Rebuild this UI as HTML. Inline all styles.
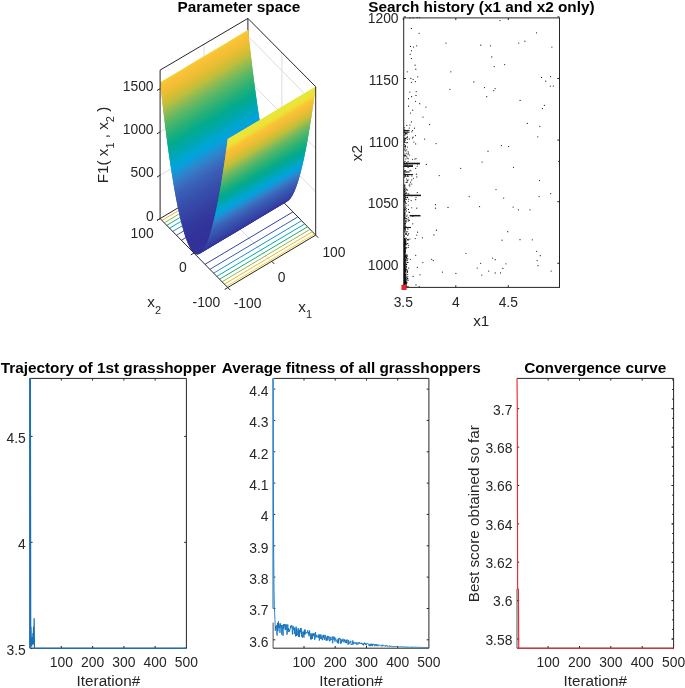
<!DOCTYPE html>
<html><head><meta charset="utf-8"><title>GOA results</title>
<style>
html,body{margin:0;padding:0;background:#fff;}
svg{display:block;}
text{font-family:"Liberation Sans", Arial, Helvetica, sans-serif;fill:#262626;}
.t{font-size:13.86px;}
.l{font-size:15.25px;}
.h{font-size:15.32px;font-weight:bold;fill:#000;}
.ax{stroke:#262626;stroke-width:1;fill:none;}
.g{stroke:#dcdcdc;stroke-width:1;fill:none;}
</style></head><body>
<svg width="685" height="688" viewBox="0 0 685 688">
<rect width="685" height="688" fill="#fff"/>

<g id="surf3d">
<path class="g" d="M160.10,175.25L248.05,122.80L315.70,191.80"/>
<path class="g" d="M160.10,131.95L248.05,79.50L315.70,148.50"/>
<path class="g" d="M160.10,88.65L248.05,36.20L315.70,105.20"/>
<path class="g" d="M204.08,192.32L204.08,43.89" />
<path class="g" d="M281.88,200.60L281.88,52.17" />
<path class="g" d="M271.73,261.32L204.08,192.32" />
<path class="g" d="M193.93,253.05L281.88,200.60" />
<path class="ax" d="M160.10,218.55L248.05,166.10L315.70,235.10"/>
<path class="ax" d="M160.10,70.12L247.90,18.40L315.70,86.67"/>
<path class="ax" d="M248.05,166.10L247.90,18.40" />
<path d="M181.38,240.26L269.33,187.81" stroke="#3743a0" stroke-width="1.0" fill="none"/>
<path d="M204.99,264.34L292.94,211.89" stroke="#3743a0" stroke-width="1.0" fill="none"/>
<path d="M176.49,235.27L264.44,182.82" stroke="#375fb6" stroke-width="1.0" fill="none"/>
<path d="M209.88,269.33L297.83,216.88" stroke="#375fb6" stroke-width="1.0" fill="none"/>
<path d="M172.74,231.44L260.69,178.99" stroke="#1e90d4" stroke-width="1.0" fill="none"/>
<path d="M213.64,273.16L301.59,220.71" stroke="#1e90d4" stroke-width="1.0" fill="none"/>
<path d="M169.58,228.21L257.53,175.76" stroke="#00a8bc" stroke-width="1.0" fill="none"/>
<path d="M216.80,276.38L304.75,223.93" stroke="#00a8bc" stroke-width="1.0" fill="none"/>
<path d="M166.79,225.37L254.74,172.92" stroke="#1eab73" stroke-width="1.0" fill="none"/>
<path d="M219.59,279.22L307.54,226.77" stroke="#1eab73" stroke-width="1.0" fill="none"/>
<path d="M164.27,222.80L252.22,170.35" stroke="#8fba48" stroke-width="1.0" fill="none"/>
<path d="M222.11,281.79L310.06,229.34" stroke="#8fba48" stroke-width="1.0" fill="none"/>
<path d="M161.95,220.44L249.90,167.99" stroke="#f4b433" stroke-width="1.0" fill="none"/>
<path d="M224.42,284.16L312.37,231.71" stroke="#f4b433" stroke-width="1.0" fill="none"/>
<path d="M226.58,286.36L314.53,233.91" stroke="#eed828" stroke-width="1.0" fill="none"/>
<path d="M160.10,82.51L171.09,75.96L182.09,69.40L193.08,62.85L204.08,56.29L215.07,49.73L226.06,43.18L237.06,36.62L248.05,30.06L248.05,30.06L248.24,31.77L248.24,31.77L237.24,38.33L226.25,44.88L215.25,51.44L204.26,58.00L193.27,64.55L182.27,71.11L171.28,77.67L160.29,84.22L160.29,84.22L160.10,82.51Z" fill="#f2d935"/>
<path d="M160.10,82.51L171.09,75.96L182.09,69.40L193.08,62.85L204.08,56.29L215.07,49.73L226.06,43.18L237.06,36.62L248.05,30.06L248.05,30.06L248.52,34.38L248.52,34.38L237.53,40.94L226.53,47.49L215.54,54.05L204.55,60.61L193.55,67.16L182.56,73.72L171.56,80.28L160.57,86.83L160.57,86.83L160.10,82.51Z" fill="#f6cd35"/>
<path d="M160.29,84.22L171.28,77.67L182.27,71.11L193.27,64.55L204.26,58.00L215.25,51.44L226.25,44.88L237.24,38.33L248.24,31.77L248.24,31.77L248.81,36.99L248.81,36.99L237.81,43.55L226.82,50.11L215.83,56.66L204.83,63.22L193.84,69.78L182.84,76.33L171.85,82.89L160.86,89.44L160.86,89.44L160.29,84.22Z" fill="#f8c436"/>
<path d="M160.57,86.83L171.56,80.28L182.56,73.72L193.55,67.16L204.55,60.61L215.54,54.05L226.53,47.49L237.53,40.94L248.52,34.38L248.52,34.38L249.10,39.61L249.10,39.61L238.10,46.17L227.11,52.72L216.12,59.28L205.12,65.83L194.13,72.39L183.13,78.95L172.14,85.50L161.15,92.06L161.15,92.06L160.57,86.83Z" fill="#f7c037"/>
<path d="M160.86,89.44L171.85,82.89L182.84,76.33L193.84,69.78L204.83,63.22L215.83,56.66L226.82,50.11L237.81,43.55L248.81,36.99L248.81,36.99L249.39,42.23L249.39,42.23L238.40,48.78L227.40,55.34L216.41,61.90L205.42,68.45L194.42,75.01L183.43,81.56L172.43,88.12L161.44,94.68L161.44,94.68L160.86,89.44Z" fill="#f4be37"/>
<path d="M161.15,92.06L172.14,85.50L183.13,78.95L194.13,72.39L205.12,65.83L216.12,59.28L227.11,52.72L238.10,46.17L249.10,39.61L249.10,39.61L249.69,44.85L249.69,44.85L238.69,51.40L227.70,57.96L216.70,64.52L205.71,71.07L194.72,77.63L183.72,84.18L172.73,90.74L161.74,97.30L161.74,97.30L161.15,92.06Z" fill="#efbe36"/>
<path d="M161.44,94.68L172.43,88.12L183.43,81.56L194.42,75.01L205.42,68.45L216.41,61.90L227.40,55.34L238.40,48.78L249.39,42.23L249.39,42.23L249.98,47.47L249.98,47.47L238.99,54.03L228.00,60.58L217.00,67.14L206.01,73.70L195.01,80.25L184.02,86.81L173.03,93.36L162.03,99.92L162.03,99.92L161.44,94.68Z" fill="#e8be35"/>
<path d="M161.74,97.30L172.73,90.74L183.72,84.18L194.72,77.63L205.71,71.07L216.70,64.52L227.70,57.96L238.69,51.40L249.69,44.85L249.69,44.85L250.28,50.10L250.28,50.10L239.29,56.65L228.30,63.21L217.30,69.77L206.31,76.32L195.32,82.88L184.32,89.43L173.33,95.99L162.33,102.55L162.33,102.55L161.74,97.30Z" fill="#dfbe33"/>
<path d="M162.03,99.92L173.03,93.36L184.02,86.81L195.01,80.25L206.01,73.70L217.00,67.14L228.00,60.58L238.99,54.03L249.98,47.47L249.98,47.47L250.59,52.73L250.59,52.73L239.59,59.28L228.60,65.84L217.61,72.40L206.61,78.95L195.62,85.51L184.63,92.06L173.63,98.62L162.64,105.18L162.64,105.18L162.03,99.92Z" fill="#d5be35"/>
<path d="M162.33,102.55L173.33,95.99L184.32,89.43L195.32,82.88L206.31,76.32L217.30,69.77L228.30,63.21L239.29,56.65L250.28,50.10L250.28,50.10L250.90,55.36L250.90,55.36L239.90,61.92L228.91,68.47L217.91,75.03L206.92,81.58L195.93,88.14L184.93,94.70L173.94,101.25L162.95,107.81L162.95,107.81L162.33,102.55Z" fill="#cabe38"/>
<path d="M162.64,105.18L173.63,98.62L184.63,92.06L195.62,85.51L206.61,78.95L217.61,72.40L228.60,65.84L239.59,59.28L250.59,52.73L250.59,52.73L251.21,57.99L251.21,57.99L240.21,64.55L229.22,71.11L218.22,77.66L207.23,84.22L196.24,90.78L185.24,97.33L174.25,103.89L163.26,110.44L163.26,110.44L162.64,105.18Z" fill="#bfbe3d"/>
<path d="M162.95,107.81L173.94,101.25L184.93,94.70L195.93,88.14L206.92,81.58L217.91,75.03L228.91,68.47L239.90,61.92L250.90,55.36L250.90,55.36L251.52,60.63L251.52,60.63L240.53,67.19L229.53,73.75L218.54,80.30L207.54,86.86L196.55,93.41L185.56,99.97L174.56,106.53L163.57,113.08L163.57,113.08L162.95,107.81Z" fill="#afbd45"/>
<path d="M163.26,110.44L174.25,103.89L185.24,97.33L196.24,90.78L207.23,84.22L218.22,77.66L229.22,71.11L240.21,64.55L251.21,57.99L251.21,57.99L251.84,63.28L251.84,63.28L240.84,69.83L229.85,76.39L218.85,82.94L207.86,89.50L196.87,96.06L185.87,102.61L174.88,109.17L163.89,115.73L163.89,115.73L163.26,110.44Z" fill="#9ebc4c"/>
<path d="M163.57,113.08L174.56,106.53L185.56,99.97L196.55,93.41L207.54,86.86L218.54,80.30L229.53,73.75L240.53,67.19L251.52,60.63L251.52,60.63L252.16,65.92L252.16,65.92L241.16,72.48L230.17,79.03L219.17,85.59L208.18,92.15L197.19,98.70L186.19,105.26L175.20,111.82L164.21,118.37L164.21,118.37L163.57,113.08Z" fill="#8ebb53"/>
<path d="M163.89,115.73L174.88,109.17L185.87,102.61L196.87,96.06L207.86,89.50L218.85,82.94L229.85,76.39L240.84,69.83L251.84,63.28L251.84,63.28L252.48,68.57L252.48,68.57L241.49,75.13L230.49,81.68L219.50,88.24L208.50,94.80L197.51,101.35L186.52,107.91L175.52,114.46L164.53,121.02L164.53,121.02L163.89,115.73Z" fill="#7eba5a"/>
<path d="M164.21,118.37L175.20,111.82L186.19,105.26L197.19,98.70L208.18,92.15L219.17,85.59L230.17,79.03L241.16,72.48L252.16,65.92L252.16,65.92L252.81,71.22L252.81,71.22L241.81,77.78L230.82,84.34L219.83,90.89L208.83,97.45L197.84,104.01L186.85,110.56L175.85,117.12L164.86,123.67L164.86,123.67L164.21,118.37Z" fill="#6eb960"/>
<path d="M164.53,121.02L175.52,114.46L186.52,107.91L197.51,101.35L208.50,94.80L219.50,88.24L230.49,81.68L241.49,75.13L252.48,68.57L252.48,68.57L253.14,73.88L253.14,73.88L242.15,80.44L231.15,86.99L220.16,93.55L209.16,100.11L198.17,106.66L187.18,113.22L176.18,119.78L165.19,126.33L165.19,126.33L164.53,121.02Z" fill="#61b864"/>
<path d="M164.86,123.67L175.85,117.12L186.85,110.56L197.84,104.01L208.83,97.45L219.83,90.89L230.82,84.34L241.81,77.78L252.81,71.22L252.81,71.22L253.47,76.54L253.47,76.54L242.48,83.10L231.49,89.66L220.49,96.21L209.50,102.77L198.51,109.32L187.51,115.88L176.52,122.44L165.52,128.99L165.52,128.99L164.86,123.67Z" fill="#54b668"/>
<path d="M165.19,126.33L176.18,119.78L187.18,113.22L198.17,106.66L209.16,100.11L220.16,93.55L231.15,86.99L242.15,80.44L253.14,73.88L253.14,73.88L253.81,79.21L253.81,79.21L242.82,85.76L231.83,92.32L220.83,98.88L209.84,105.43L198.84,111.99L187.85,118.55L176.86,125.10L165.86,131.66L165.86,131.66L165.19,126.33Z" fill="#48b56c"/>
<path d="M165.52,128.99L176.52,122.44L187.51,115.88L198.51,109.32L209.50,102.77L220.49,96.21L231.49,89.66L242.48,83.10L253.47,76.54L253.47,76.54L254.16,81.88L254.16,81.88L243.16,88.43L232.17,94.99L221.18,101.55L210.18,108.10L199.19,114.66L188.19,121.22L177.20,127.77L166.21,134.33L166.21,134.33L165.52,128.99Z" fill="#3cb370"/>
<path d="M165.86,131.66L176.86,125.10L187.85,118.55L198.84,111.99L209.84,105.43L220.83,98.88L231.83,92.32L242.82,85.76L253.81,79.21L253.81,79.21L254.51,84.55L254.51,84.55L243.51,91.11L232.52,97.67L221.52,104.22L210.53,110.78L199.54,117.33L188.54,123.89L177.55,130.45L166.56,137.00L166.56,137.00L165.86,131.66Z" fill="#31b274"/>
<path d="M166.21,134.33L177.20,127.77L188.19,121.22L199.19,114.66L210.18,108.10L221.18,101.55L232.17,94.99L243.16,88.43L254.16,81.88L254.16,81.88L254.86,87.23L254.86,87.23L243.86,93.79L232.87,100.34L221.88,106.90L210.88,113.46L199.89,120.01L188.90,126.57L177.90,133.13L166.91,139.68L166.91,139.68L166.21,134.33Z" fill="#26b078"/>
<path d="M166.56,137.00L177.55,130.45L188.54,123.89L199.54,117.33L210.53,110.78L221.52,104.22L232.52,97.67L243.51,91.11L254.51,84.55L254.51,84.55L255.22,89.92L255.22,89.92L244.22,96.47L233.23,103.03L222.23,109.58L211.24,116.14L200.25,122.70L189.25,129.25L178.26,135.81L167.27,142.37L167.27,142.37L166.56,137.00Z" fill="#1caf7d"/>
<path d="M166.91,139.68L177.90,133.13L188.90,126.57L199.89,120.01L210.88,113.46L221.88,106.90L232.87,100.34L243.86,93.79L254.86,87.23L254.86,87.23L255.58,92.60L255.58,92.60L244.58,99.16L233.59,105.72L222.60,112.27L211.60,118.83L200.61,125.39L189.62,131.94L178.62,138.50L167.63,145.05L167.63,145.05L166.91,139.68Z" fill="#13ad82"/>
<path d="M167.27,142.37L178.26,135.81L189.25,129.25L200.25,122.70L211.24,116.14L222.23,109.58L233.23,103.03L244.22,96.47L255.22,89.92L255.22,89.92L255.95,95.30L255.95,95.30L244.95,101.86L233.96,108.41L222.96,114.97L211.97,121.52L200.98,128.08L189.98,134.64L178.99,141.19L168.00,147.75L168.00,147.75L167.27,142.37Z" fill="#0aab88"/>
<path d="M167.63,145.05L178.62,138.50L189.62,131.94L200.61,125.39L211.60,118.83L222.60,112.27L233.59,105.72L244.58,99.16L255.58,92.60L255.58,92.60L256.32,98.00L256.32,98.00L245.33,104.56L234.33,111.11L223.34,117.67L212.34,124.22L201.35,130.78L190.36,137.34L179.36,143.89L168.37,150.45L168.37,150.45L167.63,145.05Z" fill="#04aa8f"/>
<path d="M168.00,147.75L178.99,141.19L189.98,134.64L200.98,128.08L211.97,121.52L222.96,114.97L233.96,108.41L244.95,101.86L255.95,95.30L255.95,95.30L256.70,100.70L256.70,100.70L245.70,107.26L234.71,113.82L223.72,120.37L212.72,126.93L201.73,133.49L190.74,140.04L179.74,146.60L168.75,153.15L168.75,153.15L168.00,147.75Z" fill="#03a997"/>
<path d="M168.37,150.45L179.36,143.89L190.36,137.34L201.35,130.78L212.34,124.22L223.34,117.67L234.33,111.11L245.33,104.56L256.32,98.00L256.32,98.00L257.08,103.42L257.08,103.42L246.09,109.97L235.10,116.53L224.10,123.09L213.11,129.64L202.11,136.20L191.12,142.75L180.13,149.31L169.13,155.87L169.13,155.87L168.37,150.45Z" fill="#01a89f"/>
<path d="M168.75,153.15L179.74,146.60L190.74,140.04L201.73,133.49L212.72,126.93L223.72,120.37L234.71,113.82L245.70,107.26L256.70,100.70L256.70,100.70L257.47,106.13L257.47,106.13L246.48,112.69L235.49,119.25L224.49,125.80L213.50,132.36L202.51,138.92L191.51,145.47L180.52,152.03L169.52,158.58L169.52,158.58L168.75,153.15Z" fill="#00a8a8"/>
<path d="M169.13,155.87L180.13,149.31L191.12,142.75L202.11,136.20L213.11,129.64L224.10,123.09L235.10,116.53L246.09,109.97L257.08,103.42L257.08,103.42L257.87,108.86L257.87,108.86L246.88,115.42L235.88,121.97L224.89,128.53L213.90,135.08L202.90,141.64L191.91,148.20L180.92,154.75L169.92,161.31L169.92,161.31L169.13,155.87Z" fill="#00a7b3"/>
<path d="M169.52,158.58L180.52,152.03L191.51,145.47L202.51,138.92L213.50,132.36L224.49,125.80L235.49,119.25L246.48,112.69L257.47,106.13L257.47,106.13L258.28,111.59L258.28,111.59L247.28,118.15L236.29,124.70L225.30,131.26L214.30,137.82L203.31,144.37L192.31,150.93L181.32,157.49L170.33,164.04L170.33,164.04L169.52,158.58Z" fill="#00a6be"/>
<path d="M169.92,161.31L180.92,154.75L191.91,148.20L202.90,141.64L213.90,135.08L224.89,128.53L235.88,121.97L246.88,115.42L257.87,108.86L257.87,108.86L258.69,114.33L258.69,114.33L247.69,120.89L236.70,127.44L225.71,134.00L214.71,140.56L203.72,147.11L192.73,153.67L181.73,160.22L170.74,166.78L170.74,166.78L169.92,161.31Z" fill="#00a6c8"/>
<path d="M170.33,164.04L181.32,157.49L192.31,150.93L203.31,144.37L214.30,137.82L225.30,131.26L236.29,124.70L247.28,118.15L258.28,111.59L258.28,111.59L259.11,117.08L259.11,117.08L248.11,123.63L237.12,130.19L226.13,136.75L215.13,143.30L204.14,149.86L193.15,156.42L182.15,162.97L171.16,169.53L171.16,169.53L170.33,164.04Z" fill="#00a5d1"/>
<path d="M170.74,166.78L181.73,160.22L192.73,153.67L203.72,147.11L214.71,140.56L225.71,134.00L236.70,127.44L247.69,120.89L258.69,114.33L258.69,114.33L259.54,119.83L259.54,119.83L248.54,126.39L237.55,132.95L226.55,139.50L215.56,146.06L204.57,152.62L193.57,159.17L182.58,165.73L171.59,172.28L171.59,172.28L170.74,166.78Z" fill="#00a4d9"/>
<path d="M171.16,169.53L182.15,162.97L193.15,156.42L204.14,149.86L215.13,143.30L226.13,136.75L237.12,130.19L248.11,123.63L259.11,117.08L259.11,117.08L259.97,122.60L259.97,122.60L248.98,129.15L237.99,135.71L226.99,142.27L216.00,148.82L205.00,155.38L194.01,161.94L183.02,168.49L172.02,175.05L172.02,175.05L171.16,169.53Z" fill="#06a0dc"/>
<path d="M171.59,172.28L182.58,165.73L193.57,159.17L204.57,152.62L215.56,146.06L226.55,139.50L237.55,132.95L248.54,126.39L259.54,119.83L259.54,119.83L260.42,125.37L260.42,125.37L249.42,131.93L238.43,138.48L227.44,145.04L216.44,151.60L205.45,158.15L194.46,164.71L183.46,171.27L172.47,177.82L172.47,177.82L171.59,172.28Z" fill="#1398d8"/>
<path d="M172.02,175.05L183.02,168.49L194.01,161.94L205.00,155.38L216.00,148.82L226.99,142.27L237.99,135.71L248.98,129.15L259.97,122.60L259.97,122.60L260.87,128.16L260.87,128.16L249.88,134.71L238.89,141.27L227.89,147.82L216.90,154.38L205.90,160.94L194.91,167.49L183.92,174.05L172.92,180.61L172.92,180.61L172.02,175.05Z" fill="#2090d3"/>
<path d="M172.47,177.82L183.46,171.27L194.46,164.71L205.45,158.15L216.44,151.60L227.44,145.04L238.43,138.48L249.42,131.93L260.42,125.37L260.42,125.37L261.34,130.95L261.34,130.95L250.35,137.51L239.35,144.06L228.36,150.62L217.36,157.18L206.37,163.73L195.38,170.29L184.38,176.84L173.39,183.40L173.39,183.40L172.47,177.82Z" fill="#2988ce"/>
<path d="M172.92,180.61L183.92,174.05L194.91,167.49L205.90,160.94L216.90,154.38L227.89,147.82L238.89,141.27L249.88,134.71L260.87,128.16L260.87,128.16L261.82,133.76L261.82,133.76L250.82,140.31L239.83,146.87L228.84,153.43L217.84,159.98L206.85,166.54L195.85,173.09L184.86,179.65L173.87,186.21L173.87,186.21L172.92,180.61Z" fill="#3180c9"/>
<path d="M173.39,183.40L184.38,176.84L195.38,170.29L206.37,163.73L217.36,157.18L228.36,150.62L239.35,144.06L250.35,137.51L261.34,130.95L261.34,130.95L262.31,136.57L262.31,136.57L251.31,143.13L240.32,149.69L229.32,156.24L218.33,162.80L207.34,169.36L196.34,175.91L185.35,182.47L174.36,189.02L174.36,189.02L173.39,183.40Z" fill="#3578c5"/>
<path d="M173.87,186.21L184.86,179.65L195.85,173.09L206.85,166.54L217.84,159.98L228.84,153.43L239.83,146.87L250.82,140.31L261.82,133.76L261.82,133.76L262.81,139.41L262.81,139.41L251.81,145.96L240.82,152.52L229.83,159.07L218.83,165.63L207.84,172.19L196.85,178.74L185.85,185.30L174.86,191.86L174.86,191.86L173.87,186.21Z" fill="#3970c0"/>
<path d="M174.36,189.02L185.35,182.47L196.34,175.91L207.34,169.36L218.33,162.80L229.32,156.24L240.32,149.69L251.31,143.13L262.31,136.57L262.31,136.57L263.32,142.25L263.32,142.25L252.33,148.81L241.34,155.36L230.34,161.92L219.35,168.48L208.36,175.03L197.36,181.59L186.37,188.15L175.37,194.70L175.37,194.70L174.36,189.02Z" fill="#3a6abd"/>
<path d="M174.86,191.86L185.85,185.30L196.85,178.74L207.84,172.19L218.83,165.63L229.83,159.07L240.82,152.52L251.81,145.96L262.81,139.41L262.81,139.41L263.86,145.11L263.86,145.11L252.86,151.67L241.87,158.23L230.88,164.78L219.88,171.34L208.89,177.90L197.89,184.45L186.90,191.01L175.91,197.56L175.91,197.56L174.86,191.86Z" fill="#3a64b9"/>
<path d="M175.37,194.70L186.37,188.15L197.36,181.59L208.36,175.03L219.35,168.48L230.34,161.92L241.34,155.36L252.33,148.81L263.32,142.25L263.32,142.25L264.41,147.99L264.41,147.99L253.41,154.55L242.42,161.11L231.42,167.66L220.43,174.22L209.44,180.77L198.44,187.33L187.45,193.89L176.46,200.44L176.46,200.44L175.37,194.70Z" fill="#3a5eb6"/>
<path d="M175.91,197.56L186.90,191.01L197.89,184.45L208.89,177.90L219.88,171.34L230.88,164.78L241.87,158.23L252.86,151.67L263.86,145.11L263.86,145.11L264.97,150.89L264.97,150.89L253.98,157.45L242.99,164.00L231.99,170.56L221.00,177.12L210.00,183.67L199.01,190.23L188.02,196.78L177.02,203.34L177.02,203.34L175.91,197.56Z" fill="#395bb3"/>
<path d="M176.46,200.44L187.45,193.89L198.44,187.33L209.44,180.77L220.43,174.22L231.42,167.66L242.42,161.11L253.41,154.55L264.41,147.99L264.41,147.99L265.56,153.81L265.56,153.81L254.57,160.37L243.57,166.92L232.58,173.48L221.59,180.03L210.59,186.59L199.60,193.15L188.60,199.70L177.61,206.26L177.61,206.26L176.46,200.44Z" fill="#3857b0"/>
<path d="M177.02,203.34L188.02,196.78L199.01,190.23L210.00,183.67L221.00,177.12L231.99,170.56L242.99,164.00L253.98,157.45L264.97,150.89L264.97,150.89L266.17,156.75L266.17,156.75L255.18,163.31L244.18,169.86L233.19,176.42L222.20,182.98L211.20,189.53L200.21,196.09L189.22,202.65L178.22,209.20L178.22,209.20L177.02,203.34Z" fill="#3853ae"/>
<path d="M177.61,206.26L188.60,199.70L199.60,193.15L210.59,186.59L221.59,180.03L232.58,173.48L243.57,166.92L254.57,160.37L265.56,153.81L265.56,153.81L266.81,159.72L266.81,159.72L255.82,166.28L244.82,172.83L233.83,179.39L222.83,185.95L211.84,192.50L200.85,199.06L189.85,205.62L178.86,212.17L178.86,212.17L177.61,206.26Z" fill="#374fac"/>
<path d="M178.22,209.20L189.22,202.65L200.21,196.09L211.20,189.53L222.20,182.98L233.19,176.42L244.18,169.86L255.18,163.31L266.17,156.75L266.17,156.75L267.48,162.72L267.48,162.72L256.48,169.28L245.49,175.83L234.49,182.39L223.50,188.95L212.51,195.50L201.51,202.06L190.52,208.61L179.53,215.17L179.53,215.17L178.22,209.20Z" fill="#374caa"/>
<path d="M178.86,212.17L189.85,205.62L200.85,199.06L211.84,192.50L222.83,185.95L233.83,179.39L244.82,172.83L255.82,166.28L266.81,159.72L266.81,159.72L268.18,165.76L268.18,165.76L257.18,172.31L246.19,178.87L235.20,185.42L224.20,191.98L213.21,198.54L202.21,205.09L191.22,211.65L180.23,218.21L180.23,218.21L178.86,212.17Z" fill="#3649a8"/>
<path d="M179.53,215.17L190.52,208.61L201.51,202.06L212.51,195.50L223.50,188.95L234.49,182.39L245.49,175.83L256.48,169.28L267.48,162.72L267.48,162.72L268.92,168.83L268.92,168.83L257.92,175.39L246.93,181.94L235.94,188.50L224.94,195.06L213.95,201.61L202.96,208.17L191.96,214.72L180.97,221.28L180.97,221.28L179.53,215.17Z" fill="#3546a6"/>
<path d="M180.23,218.21L191.22,211.65L202.21,205.09L213.21,198.54L224.20,191.98L235.20,185.42L246.19,178.87L257.18,172.31L268.18,165.76L268.18,165.76L269.71,171.95L269.71,171.95L258.71,178.51L247.72,185.07L236.73,191.62L225.73,198.18L214.74,204.74L203.74,211.29L192.75,217.85L181.76,224.40L181.76,224.40L180.23,218.21Z" fill="#3543a4"/>
<path d="M180.97,221.28L191.96,214.72L202.96,208.17L213.95,201.61L224.94,195.06L235.94,188.50L246.93,181.94L257.92,175.39L268.92,168.83L268.92,168.83L270.56,175.14L270.56,175.14L259.56,181.69L248.57,188.25L237.57,194.81L226.58,201.36L215.59,207.92L204.59,214.48L193.60,221.03L182.61,227.59L182.61,227.59L180.97,221.28Z" fill="#343fa2"/>
<path d="M181.76,224.40L192.75,217.85L203.74,211.29L214.74,204.74L225.73,198.18L236.73,191.62L247.72,185.07L258.71,178.51L269.71,171.95L269.71,171.95L271.48,178.40L271.48,178.40L260.48,184.95L249.49,191.51L238.50,198.07L227.50,204.62L216.51,211.18L205.51,217.74L194.52,224.29L183.53,230.85L183.53,230.85L181.76,224.40Z" fill="#343ca0"/>
<path d="M182.61,227.59L193.60,221.03L204.59,214.48L215.59,207.92L226.58,201.36L237.57,194.81L248.57,188.25L259.56,181.69L270.56,175.14L270.56,175.14L272.50,181.76L272.50,181.76L261.50,188.31L250.51,194.87L239.52,201.43L228.52,207.98L217.53,214.54L206.53,221.10L195.54,227.65L184.55,234.21L184.55,234.21L182.61,227.59Z" fill="#333a9e"/>
<path d="M183.53,230.85L194.52,224.29L205.51,217.74L216.51,211.18L227.50,204.62L238.50,198.07L249.49,191.51L260.48,184.95L271.48,178.40L271.48,178.40L272.57,181.98L273.65,185.26L273.65,185.26L262.66,191.81L251.67,198.37L240.67,204.93L229.68,211.48L218.69,218.04L207.69,224.60L196.70,231.15L185.70,237.71L185.70,237.71L184.62,234.43L183.53,230.85Z" fill="#33379c"/>
<path d="M184.55,234.21L195.54,227.65L206.53,221.10L217.53,214.54L228.52,207.98L239.52,201.43L250.51,194.87L261.50,188.31L272.50,181.76L272.50,181.76L273.76,185.57L275.03,188.98L275.03,188.98L264.03,195.53L253.04,202.09L242.05,208.65L231.05,215.20L220.06,221.76L209.07,228.32L198.07,234.87L187.08,241.43L187.08,241.43L185.81,238.02L184.55,234.21Z" fill="#32359b"/>
<path d="M185.70,237.71L196.70,231.15L207.69,224.60L218.69,218.04L229.68,211.48L240.67,204.93L251.67,198.37L262.66,191.81L273.65,185.26L273.65,185.26L274.71,188.16L275.76,190.78L276.82,193.12L276.82,193.12L265.82,199.68L254.83,206.23L243.84,212.79L232.84,219.35L221.85,225.90L210.85,232.46L199.86,239.02L188.87,245.57L188.87,245.57L187.81,243.23L186.76,240.61L185.70,237.71Z" fill="#32339a"/>
<path d="M187.08,241.43L198.07,234.87L209.07,228.32L220.06,221.76L231.05,215.20L242.05,208.65L253.04,202.09L264.03,195.53L275.03,188.98L275.03,188.98L276.05,191.43L277.06,193.63L278.08,195.57L279.10,197.26L280.12,198.68L281.14,199.85L281.14,199.85L270.14,206.40L259.15,212.96L248.16,219.52L237.16,226.07L226.17,232.63L215.18,239.19L204.18,245.74L193.19,252.30L193.19,252.30L192.17,251.13L191.15,249.71L190.13,248.02L189.11,246.08L188.10,243.88L187.08,241.43Z" fill="#323299"/>
<path d="M188.87,245.57L199.86,239.02L210.85,232.46L221.85,225.90L232.84,219.35L243.84,212.79L254.83,206.23L265.82,199.68L276.82,193.12L276.82,193.12L277.90,195.24L278.98,197.06L280.06,198.60L281.14,199.85L281.14,199.85L270.14,206.40L259.15,212.96L248.16,219.52L237.16,226.07L226.17,232.63L215.18,239.19L204.18,245.74L193.19,252.30L193.19,252.30L192.11,251.05L191.03,249.51L189.95,247.69L188.87,245.57Z" fill="#323198"/>
<path d="M197.51,254.39L208.30,247.83L219.09,241.27L229.87,234.70L240.64,228.12L251.40,221.52L262.15,214.90L272.89,208.27L283.61,201.61L283.61,201.61L282.37,200.92L281.14,199.85L281.14,199.85L270.14,206.40L259.15,212.96L248.16,219.52L237.16,226.07L226.17,232.63L215.18,239.19L204.18,245.74L193.19,252.30L193.19,252.30L194.27,253.25L195.35,253.92L196.43,254.30L197.51,254.39Z" fill="#323198"/>
<path d="M199.30,253.89L210.13,247.41L220.96,240.93L231.80,234.43L242.63,227.94L253.46,221.43L264.29,214.92L275.12,208.40L285.94,201.88L285.94,201.88L284.74,201.91L283.54,201.58L282.34,200.89L281.14,199.85L281.14,199.85L270.14,206.40L259.15,212.96L248.16,219.52L237.16,226.07L226.17,232.63L215.18,239.19L204.18,245.74L193.19,252.30L193.19,252.30L194.21,253.21L195.22,253.86L196.24,254.25L197.26,254.39L198.28,254.27L199.30,253.89Z" fill="#323198"/>
<path d="M200.67,252.97L211.52,246.54L222.37,240.09L233.22,233.65L244.06,227.19L254.91,220.73L265.76,214.27L276.62,207.80L287.47,201.33L287.47,201.33L286.18,201.83L284.89,201.93L283.61,201.61L283.61,201.61L272.89,208.27L262.15,214.90L251.40,221.52L240.64,228.12L229.87,234.70L219.09,241.27L208.30,247.83L197.51,254.39L197.51,254.39L198.56,254.19L199.62,253.72L200.67,252.97Z" fill="#323299"/>
<path d="M201.83,251.83L212.68,245.43L223.54,239.03L234.39,232.61L245.25,226.19L256.11,219.77L266.97,213.34L277.83,206.91L288.69,200.47L288.69,200.47L287.31,201.41L285.94,201.88L285.94,201.88L275.12,208.40L264.29,214.92L253.46,221.43L242.63,227.94L231.80,234.43L220.96,240.93L210.13,247.41L199.30,253.89L199.30,253.89L200.56,253.06L201.83,251.83Z" fill="#32339a"/>
<path d="M202.85,250.55L213.70,244.19L224.56,237.81L235.42,231.43L246.28,225.04L257.15,218.64L268.01,212.24L278.87,205.84L289.74,199.43L289.74,199.43L288.60,200.54L287.47,201.33L287.47,201.33L276.62,207.80L265.76,214.27L254.91,220.73L244.06,227.19L233.22,233.65L222.37,240.09L211.52,246.54L200.67,252.97L200.67,252.97L201.76,251.91L202.85,250.55Z" fill="#32359b"/>
<path d="M203.77,249.18L214.63,242.84L225.49,236.49L236.35,230.14L247.21,223.78L258.07,217.41L268.94,211.04L279.81,204.66L290.67,198.27L290.67,198.27L288.69,200.47L288.69,200.47L277.83,206.91L266.97,213.34L256.11,219.77L245.25,226.19L234.39,232.61L223.54,239.03L212.68,245.43L201.83,251.83L201.83,251.83L203.77,249.18Z" fill="#33379c"/>
<path d="M204.62,247.72L215.48,241.41L226.34,235.09L237.20,228.77L248.06,222.43L258.92,216.09L269.79,209.75L280.66,203.39L291.53,197.03L291.53,197.03L289.74,199.43L289.74,199.43L278.87,205.84L268.01,212.24L257.15,218.64L246.28,225.04L235.42,231.43L224.56,237.81L213.70,244.19L202.85,250.55L202.85,250.55L204.62,247.72Z" fill="#333a9e"/>
<path d="M205.41,246.21L216.26,239.92L227.12,233.63L237.98,227.33L248.85,221.03L259.71,214.71L270.58,208.39L281.44,202.06L292.31,195.73L292.31,195.73L290.67,198.27L290.67,198.27L279.81,204.66L268.94,211.04L258.07,217.41L247.21,223.78L236.35,230.14L225.49,236.49L214.63,242.84L203.77,249.18L203.77,249.18L205.41,246.21Z" fill="#343ca0"/>
<path d="M206.15,244.64L217.00,238.39L227.86,232.12L238.72,225.85L249.58,219.57L260.45,213.28L271.31,206.98L282.18,200.68L293.05,194.37L293.05,194.37L291.53,197.03L291.53,197.03L280.66,203.39L269.79,209.75L258.92,216.09L248.06,222.43L237.20,228.77L226.34,235.09L215.48,241.41L204.62,247.72L204.62,247.72L206.15,244.64Z" fill="#343fa2"/>
<path d="M206.85,243.04L217.70,236.81L228.56,230.57L239.42,224.33L250.28,218.07L261.14,211.81L272.01,205.53L282.87,199.25L293.74,192.97L293.74,192.97L292.31,195.73L292.31,195.73L281.44,202.06L270.58,208.39L259.71,214.71L248.85,221.03L237.98,227.33L227.12,233.63L216.26,239.92L205.41,246.21L205.41,246.21L206.85,243.04Z" fill="#3543a4"/>
<path d="M207.52,241.40L218.37,235.20L229.22,228.99L240.08,222.77L250.94,216.54L261.80,210.30L272.67,204.05L283.53,197.79L294.40,191.53L294.40,191.53L293.05,194.37L293.05,194.37L282.18,200.68L271.31,206.98L260.45,213.28L249.58,219.57L238.72,225.85L227.86,232.12L217.00,238.39L206.15,244.64L206.15,244.64L207.52,241.40Z" fill="#3546a6"/>
<path d="M208.15,239.73L219.00,233.56L229.86,227.37L240.71,221.18L251.57,214.97L262.43,208.76L273.29,202.53L284.16,196.30L295.02,190.06L295.02,190.06L293.74,192.97L293.74,192.97L282.87,199.25L272.01,205.53L261.14,211.81L250.28,218.07L239.42,224.33L228.56,230.57L217.70,236.81L206.85,243.04L206.85,243.04L208.15,239.73Z" fill="#3649a8"/>
<path d="M208.76,238.04L219.61,231.89L230.47,225.73L241.32,219.56L252.18,213.38L263.03,207.19L273.89,200.99L284.76,194.78L295.62,188.56L295.62,188.56L294.40,191.53L294.40,191.53L283.53,197.79L272.67,204.05L261.80,210.30L250.94,216.54L240.08,222.77L229.22,228.99L218.37,235.20L207.52,241.40L207.52,241.40L208.76,238.04Z" fill="#374caa"/>
<path d="M209.35,236.32L220.21,230.17L231.06,224.03L241.91,217.89L252.76,211.74L263.61,205.60L274.47,199.42L285.33,193.23L296.19,187.04L296.19,187.04L295.02,190.06L295.02,190.06L284.16,196.30L273.29,202.53L262.43,208.76L251.57,214.97L240.71,221.18L229.86,227.37L219.00,233.56L208.15,239.73L208.15,239.73L209.35,236.32Z" fill="#374fac"/>
<path d="M209.92,234.58L220.78,228.44L231.64,222.30L242.49,216.16L253.35,210.02L264.21,203.88L275.06,197.74L285.91,191.59L296.76,185.45L296.76,185.45L295.62,188.56L295.62,188.56L284.76,194.78L273.89,200.99L263.03,207.19L252.18,213.38L241.32,219.56L230.47,225.73L219.61,231.89L208.76,238.04L208.76,238.04L209.92,234.58Z" fill="#3853ae"/>
<path d="M210.47,232.82L221.33,226.68L232.20,220.55L243.06,214.42L253.92,208.28L264.78,202.14L275.64,196.01L286.49,189.87L297.35,183.73L297.35,183.73L296.19,187.04L296.19,187.04L285.33,193.23L274.47,199.42L263.61,205.60L252.76,211.74L241.91,217.89L231.06,224.03L220.21,230.17L209.35,236.32L209.35,236.32L210.47,232.82Z" fill="#3857b0"/>
<path d="M211.00,231.04L221.87,224.91L232.73,218.78L243.60,212.65L254.47,206.52L265.33,200.39L276.19,194.25L287.05,188.12L297.91,181.99L297.91,181.99L296.76,185.45L296.76,185.45L285.91,191.59L275.06,197.74L264.21,203.88L253.35,210.02L242.49,216.16L231.64,222.30L220.78,228.44L209.92,234.58L209.92,234.58L211.00,231.04Z" fill="#395bb3"/>
<path d="M211.52,229.25L222.39,223.12L233.26,217.00L244.13,210.87L255.00,204.74L265.86,198.61L276.73,192.49L287.60,186.36L298.46,180.22L298.46,180.22L297.35,183.73L297.35,183.73L286.49,189.87L275.64,196.01L264.78,202.14L253.92,208.28L243.06,214.42L232.20,220.55L221.33,226.68L210.47,232.82L210.47,232.82L211.52,229.25Z" fill="#3a5eb6"/>
<path d="M212.02,227.44L222.89,221.32L233.77,215.20L244.64,209.07L255.51,202.95L266.38,196.82L277.25,190.70L288.12,184.57L298.99,178.45L298.99,178.45L297.91,181.99L297.91,181.99L287.05,188.12L276.19,194.25L265.33,200.39L254.47,206.52L243.60,212.65L232.73,218.78L221.87,224.91L211.00,231.04L211.00,231.04L212.02,227.44Z" fill="#3a64b9"/>
<path d="M212.51,225.62L223.39,219.50L234.26,213.38L245.14,207.26L256.01,201.14L266.89,195.02L277.76,188.90L288.64,182.78L299.51,176.65L299.51,176.65L298.46,180.22L298.46,180.22L287.60,186.36L276.73,192.49L265.86,198.61L255.00,204.74L244.13,210.87L233.26,217.00L222.39,223.12L211.52,229.25L211.52,229.25L212.51,225.62Z" fill="#3a6abd"/>
<path d="M212.99,223.79L223.87,217.67L234.75,211.56L245.62,205.44L256.50,199.32L267.38,193.20L278.26,187.08L289.13,180.96L300.01,174.84L300.01,174.84L298.99,178.45L298.99,178.45L288.12,184.57L277.25,190.70L266.38,196.82L255.51,202.95L244.64,209.07L233.77,215.20L222.89,221.32L212.02,227.44L212.02,227.44L212.99,223.79Z" fill="#3970c0"/>
<path d="M213.45,221.94L224.33,215.83L235.22,209.72L246.10,203.60L256.98,197.49L267.86,191.37L278.74,185.26L289.62,179.14L300.50,173.02L300.50,173.02L299.51,176.65L299.51,176.65L288.64,182.78L277.76,188.90L266.89,195.02L256.01,201.14L245.14,207.26L234.26,213.38L223.39,219.50L212.51,225.62L212.51,225.62L213.45,221.94Z" fill="#3578c5"/>
<path d="M213.91,220.09L224.79,213.98L235.68,207.87L246.56,201.76L257.45,195.64L268.33,189.53L279.21,183.42L290.09,177.30L300.97,171.19L300.97,171.19L300.01,174.84L300.01,174.84L289.13,180.96L278.26,187.08L267.38,193.20L256.50,199.32L245.62,205.44L234.75,211.56L223.87,217.67L212.99,223.79L212.99,223.79L213.91,220.09Z" fill="#3180c9"/>
<path d="M214.35,218.22L225.24,212.12L236.13,206.01L247.01,199.90L257.90,193.79L268.79,187.68L279.67,181.57L290.55,175.46L301.44,169.34L301.44,169.34L300.50,173.02L300.50,173.02L289.62,179.14L278.74,185.26L267.86,191.37L256.98,197.49L246.10,203.60L235.22,209.72L224.33,215.83L213.45,221.94L213.45,221.94L214.35,218.22Z" fill="#2988ce"/>
<path d="M214.79,216.35L225.68,210.24L236.57,204.14L247.46,198.03L258.35,191.92L269.23,185.82L280.12,179.71L291.01,173.60L301.89,167.49L301.89,167.49L300.97,171.19L300.97,171.19L290.09,177.30L279.21,183.42L268.33,189.53L257.45,195.64L246.56,201.76L235.68,207.87L224.79,213.98L213.91,220.09L213.91,220.09L214.79,216.35Z" fill="#2090d3"/>
<path d="M215.22,214.47L226.11,208.36L237.00,202.26L247.89,196.15L258.78,190.05L269.67,183.94L280.56,177.84L291.45,171.73L302.34,165.62L302.34,165.62L301.44,169.34L301.44,169.34L290.55,175.46L279.67,181.57L268.79,187.68L257.90,193.79L247.01,199.90L236.13,206.01L225.24,212.12L214.35,218.22L214.35,218.22L215.22,214.47Z" fill="#1398d8"/>
<path d="M215.64,212.57L226.53,206.47L237.42,200.37L248.32,194.27L259.21,188.17L270.10,182.06L280.99,175.96L291.88,169.85L302.77,163.75L302.77,163.75L301.89,167.49L301.89,167.49L291.01,173.60L280.12,179.71L269.23,185.82L258.35,191.92L247.46,198.03L236.57,204.14L225.68,210.24L214.79,216.35L214.79,216.35L215.64,212.57Z" fill="#06a0dc"/>
<path d="M216.05,210.68L226.94,204.58L237.84,198.48L248.73,192.38L259.63,186.27L270.52,180.17L281.42,174.07L292.31,167.97L303.20,161.87L303.20,161.87L302.34,165.62L302.34,165.62L291.45,171.73L280.56,177.84L269.67,183.94L258.78,190.05L247.89,196.15L237.00,202.26L226.11,208.36L215.22,214.47L215.22,214.47L216.05,210.68Z" fill="#00a4d9"/>
<path d="M216.45,208.77L227.35,202.67L238.25,196.57L249.14,190.47L260.04,184.37L270.94,178.27L281.83,172.17L292.73,166.07L303.62,159.97L303.62,159.97L302.77,163.75L302.77,163.75L291.88,169.85L280.99,175.96L270.10,182.06L259.21,188.17L248.32,194.27L237.42,200.37L226.53,206.47L215.64,212.57L215.64,212.57L216.45,208.77Z" fill="#00a5d1"/>
<path d="M216.85,206.86L227.75,200.76L238.65,194.66L249.55,188.57L260.44,182.47L271.34,176.37L282.24,170.27L293.13,164.17L304.03,158.07L304.03,158.07L303.20,161.87L303.20,161.87L292.31,167.97L281.42,174.07L270.52,180.17L259.63,186.27L248.73,192.38L237.84,198.48L226.94,204.58L216.05,210.68L216.05,210.68L216.85,206.86Z" fill="#00a6c8"/>
<path d="M217.24,204.94L228.14,198.84L239.04,192.75L249.94,186.65L260.84,180.55L271.74,174.46L282.64,168.36L293.54,162.26L304.44,156.17L304.44,156.17L303.62,159.97L303.62,159.97L292.73,166.07L281.83,172.17L270.94,178.27L260.04,184.37L249.14,190.47L238.25,196.57L227.35,202.67L216.45,208.77L216.45,208.77L217.24,204.94Z" fill="#00a6be"/>
<path d="M217.63,203.01L228.53,196.92L239.43,190.82L250.33,184.73L261.23,178.63L272.13,172.54L283.03,166.44L293.93,160.35L304.83,154.25L304.83,154.25L304.03,158.07L304.03,158.07L293.13,164.17L282.24,170.27L271.34,176.37L260.44,182.47L249.55,188.57L238.65,194.66L227.75,200.76L216.85,206.86L216.85,206.86L217.63,203.01Z" fill="#00a7b3"/>
<path d="M218.01,201.08L228.92,194.95L239.82,188.85L250.72,182.76L261.62,176.70L272.52,170.61L283.42,164.52L294.32,158.43L305.22,152.33L305.22,152.33L304.44,156.17L304.44,156.17L293.54,162.26L282.64,168.36L271.74,174.46L260.84,180.55L249.94,186.65L239.04,192.75L228.14,198.84L217.24,204.94L217.24,204.94L218.01,201.08Z" fill="#00a8a8"/>
<path d="M218.38,199.14L229.30,192.97L240.21,186.83L251.12,180.70L262.03,174.59L272.93,168.50L283.83,162.43L294.73,156.39L305.61,150.37L305.61,150.37L304.83,154.25L304.83,154.25L293.93,160.35L283.03,166.44L272.13,172.54L261.23,178.63L250.33,184.73L239.43,190.82L228.53,196.92L217.63,203.01L217.63,203.01L218.38,199.14Z" fill="#01a89f"/>
<path d="M218.75,197.19L229.67,190.99L240.60,184.80L251.52,178.63L262.44,172.47L273.35,166.34L284.26,160.22L295.17,154.13L306.07,148.05L306.07,148.05L305.22,152.33L305.22,152.33L294.32,158.43L283.42,164.52L272.52,170.61L261.62,176.70L250.72,182.76L239.82,188.85L228.92,194.95L218.01,201.08L218.01,201.08L218.75,197.19Z" fill="#03a997"/>
<path d="M219.11,195.24L230.05,189.00L240.98,182.77L251.91,176.55L262.84,170.35L273.76,164.17L284.68,158.00L295.60,151.85L306.51,145.72L306.51,145.72L305.61,150.37L305.61,150.37L294.73,156.39L283.83,162.43L272.93,168.50L262.03,174.59L251.12,180.70L240.21,186.83L229.30,192.97L218.38,199.14L218.38,199.14L219.11,195.24Z" fill="#04aa8f"/>
<path d="M219.47,193.29L230.41,187.00L241.35,180.73L252.29,174.47L263.23,168.22L274.17,161.99L285.10,155.77L296.02,149.57L306.95,143.39L306.95,143.39L306.07,148.05L306.07,148.05L295.17,154.13L284.26,160.22L273.35,166.34L262.44,172.47L251.52,178.63L240.60,184.80L229.67,190.99L218.75,197.19L218.75,197.19L219.47,193.29Z" fill="#0aab88"/>
<path d="M219.82,191.33L230.77,185.00L241.72,178.69L252.67,172.38L263.62,166.09L274.56,159.81L285.50,153.54L296.44,147.28L307.38,141.04L307.38,141.04L306.51,145.72L306.51,145.72L295.60,151.85L284.68,158.00L273.76,164.17L262.84,170.35L251.91,176.55L240.98,182.77L230.05,189.00L219.11,195.24L219.11,195.24L219.82,191.33Z" fill="#13ad82"/>
<path d="M220.17,189.37L231.13,183.00L242.09,176.64L253.04,170.29L264.00,163.95L274.95,157.62L285.91,151.30L296.86,144.99L307.80,138.69L307.80,138.69L306.95,143.39L306.95,143.39L296.02,149.57L285.10,155.77L274.17,161.99L263.23,168.22L252.29,174.47L241.35,180.73L230.41,187.00L219.47,193.29L219.47,193.29L220.17,189.37Z" fill="#1caf7d"/>
<path d="M220.51,187.40L231.48,180.99L242.45,174.59L253.41,168.19L264.38,161.80L275.34,155.42L286.30,149.05L297.26,142.69L308.22,136.33L308.22,136.33L307.38,141.04L307.38,141.04L296.44,147.28L285.50,153.54L274.56,159.81L263.62,166.09L252.67,172.38L241.72,178.69L230.77,185.00L219.82,191.33L219.82,191.33L220.51,187.40Z" fill="#26b078"/>
<path d="M220.85,185.42L231.83,178.97L242.80,172.53L253.78,166.09L264.75,159.65L275.72,153.22L286.69,146.80L297.66,140.38L308.63,133.97L308.63,133.97L307.80,138.69L307.80,138.69L296.86,144.99L285.91,151.30L274.95,157.62L264.00,163.95L253.04,170.29L242.09,176.64L231.13,183.00L220.17,189.37L220.17,189.37L220.85,185.42Z" fill="#31b274"/>
<path d="M221.19,183.45L232.17,176.95L243.15,170.46L254.13,163.98L265.12,157.50L276.10,151.02L287.08,144.54L298.06,138.07L309.03,131.60L309.03,131.60L308.22,136.33L308.22,136.33L297.26,142.69L286.30,149.05L275.34,155.42L264.38,161.80L253.41,168.19L242.45,174.59L231.48,180.99L220.51,187.40L220.51,187.40L221.19,183.45Z" fill="#3cb370"/>
<path d="M221.52,181.47L232.51,174.93L243.50,168.40L254.49,161.87L265.48,155.33L276.47,148.80L287.46,142.28L298.44,135.75L309.43,129.22L309.43,129.22L308.63,133.97L308.63,133.97L297.66,140.38L286.69,146.80L275.72,153.22L264.75,159.65L253.78,166.09L242.80,172.53L231.83,178.97L220.85,185.42L220.85,185.42L221.52,181.47Z" fill="#48b56c"/>
<path d="M221.85,179.48L232.84,172.92L243.83,166.37L254.83,159.81L265.82,153.26L276.81,146.70L287.81,140.14L298.80,133.59L309.80,127.03L309.80,127.03L309.03,131.60L309.03,131.60L298.06,138.07L287.08,144.54L276.10,151.02L265.12,157.50L254.13,163.98L243.15,170.46L232.17,176.95L221.19,183.45L221.19,183.45L221.85,179.48Z" fill="#54b668"/>
<path d="M222.17,177.49L233.16,170.93L244.16,164.38L255.15,157.82L266.14,151.27L277.14,144.71L288.13,138.15L299.13,131.60L310.12,125.04L310.12,125.04L309.43,129.22L309.43,129.22L298.44,135.75L287.46,142.28L276.47,148.80L265.48,155.33L254.49,161.87L243.50,168.40L232.51,174.93L221.52,181.47L221.52,181.47L222.17,177.49Z" fill="#61b864"/>
<path d="M222.49,175.50L233.48,168.94L244.48,162.39L255.47,155.83L266.46,149.27L277.46,142.72L288.45,136.16L299.45,129.60L310.44,123.05L310.44,123.05L309.80,127.03L309.80,127.03L298.80,133.59L287.81,140.14L276.81,146.70L265.82,153.26L254.83,159.81L243.83,166.37L232.84,172.92L221.85,179.48L221.85,179.48L222.49,175.50Z" fill="#6eb960"/>
<path d="M222.81,173.50L233.80,166.95L244.79,160.39L255.79,153.83L266.78,147.28L277.77,140.72L288.77,134.16L299.76,127.61L310.76,121.05L310.76,121.05L310.12,125.04L310.12,125.04L299.13,131.60L288.13,138.15L277.14,144.71L266.14,151.27L255.15,157.82L244.16,164.38L233.16,170.93L222.17,177.49L222.17,177.49L222.81,173.50Z" fill="#7eba5a"/>
<path d="M223.12,171.50L234.11,164.95L245.11,158.39L256.10,151.83L267.09,145.28L278.09,138.72L289.08,132.17L300.08,125.61L311.07,119.05L311.07,119.05L310.44,123.05L310.44,123.05L299.45,129.60L288.45,136.16L277.46,142.72L266.46,149.27L255.47,155.83L244.48,162.39L233.48,168.94L222.49,175.50L222.49,175.50L223.12,171.50Z" fill="#8ebb53"/>
<path d="M223.43,169.50L234.42,162.94L245.42,156.39L256.41,149.83L267.40,143.27L278.40,136.72L289.39,130.16L300.39,123.61L311.38,117.05L311.38,117.05L310.76,121.05L310.76,121.05L299.76,127.61L288.77,134.16L277.77,140.72L266.78,147.28L255.79,153.83L244.79,160.39L233.80,166.95L222.81,173.50L222.81,173.50L223.43,169.50Z" fill="#9ebc4c"/>
<path d="M223.74,167.49L234.73,160.94L245.72,154.38L256.72,147.83L267.71,141.27L278.71,134.71L289.70,128.16L300.69,121.60L311.69,115.04L311.69,115.04L311.07,119.05L311.07,119.05L300.08,125.61L289.08,132.17L278.09,138.72L267.09,145.28L256.10,151.83L245.11,158.39L234.11,164.95L223.12,171.50L223.12,171.50L223.74,167.49Z" fill="#afbd45"/>
<path d="M224.04,165.48L235.03,158.93L246.03,152.37L257.02,145.82L268.02,139.26L279.01,132.70L290.00,126.15L301.00,119.59L311.99,113.03L311.99,113.03L311.38,117.05L311.38,117.05L300.39,123.61L289.39,130.16L278.40,136.72L267.40,143.27L256.41,149.83L245.42,156.39L234.42,162.94L223.43,169.50L223.43,169.50L224.04,165.48Z" fill="#bfbe3d"/>
<path d="M224.34,163.47L235.34,156.92L246.33,150.36L257.32,143.80L268.32,137.25L279.31,130.69L290.30,124.13L301.30,117.58L312.29,111.02L312.29,111.02L311.69,115.04L311.69,115.04L300.69,121.60L289.70,128.16L278.71,134.71L267.71,141.27L256.72,147.83L245.72,154.38L234.73,160.94L223.74,167.49L223.74,167.49L224.34,163.47Z" fill="#cabe38"/>
<path d="M224.64,161.46L235.63,154.90L246.63,148.34L257.62,141.79L268.61,135.23L279.61,128.68L290.60,122.12L301.60,115.56L312.59,109.01L312.59,109.01L311.99,113.03L311.99,113.03L301.00,119.59L290.00,126.15L279.01,132.70L268.02,139.26L257.02,145.82L246.03,152.37L235.03,158.93L224.04,165.48L224.04,165.48L224.64,161.46Z" fill="#d5be35"/>
<path d="M224.94,159.44L235.93,152.88L246.92,146.33L257.92,139.77L268.91,133.21L279.90,126.66L290.90,120.10L301.89,113.55L312.89,106.99L312.89,106.99L312.29,111.02L312.29,111.02L301.30,117.58L290.30,124.13L279.31,130.69L268.32,137.25L257.32,143.80L246.33,150.36L235.34,156.92L224.34,163.47L224.34,163.47L224.94,159.44Z" fill="#dfbe33"/>
<path d="M225.23,157.42L236.22,150.86L247.22,144.31L258.21,137.75L269.20,131.19L280.20,124.64L291.19,118.08L302.18,111.52L313.18,104.97L313.18,104.97L312.59,109.01L312.59,109.01L301.60,115.56L290.60,122.12L279.61,128.68L268.61,135.23L257.62,141.79L246.63,148.34L235.63,154.90L224.64,161.46L224.64,161.46L225.23,157.42Z" fill="#e8be35"/>
<path d="M225.52,155.39L236.51,148.84L247.51,142.28L258.50,135.73L269.49,129.17L280.49,122.61L291.48,116.06L302.47,109.50L313.47,102.94L313.47,102.94L312.89,106.99L312.89,106.99L301.89,113.55L290.90,120.10L279.90,126.66L268.91,133.21L257.92,139.77L246.92,146.33L235.93,152.88L224.94,159.44L224.94,159.44L225.52,155.39Z" fill="#efbe36"/>
<path d="M225.81,153.37L236.80,146.81L247.79,140.26L258.79,133.70L269.78,127.14L280.77,120.59L291.77,114.03L302.76,107.47L313.76,100.92L313.76,100.92L313.18,104.97L313.18,104.97L302.18,111.52L291.19,118.08L280.20,124.64L269.20,131.19L258.21,137.75L247.22,144.31L236.22,150.86L225.23,157.42L225.23,157.42L225.81,153.37Z" fill="#f4be37"/>
<path d="M226.09,151.34L237.08,144.78L248.08,138.23L259.07,131.67L270.07,125.12L281.06,118.56L292.05,112.00L303.05,105.45L314.04,98.89L314.04,98.89L313.47,102.94L313.47,102.94L302.47,109.50L291.48,116.06L280.49,122.61L269.49,129.17L258.50,135.73L247.51,142.28L236.51,148.84L225.52,155.39L225.52,155.39L226.09,151.34Z" fill="#f7c037"/>
<path d="M226.37,149.31L237.37,142.75L248.36,136.20L259.35,129.64L270.35,123.08L281.34,116.53L292.33,109.97L303.33,103.42L314.32,96.86L314.32,96.86L313.76,100.92L313.76,100.92L302.76,107.47L291.77,114.03L280.77,120.59L269.78,127.14L258.79,133.70L247.79,140.26L236.80,146.81L225.81,153.37L225.81,153.37L226.37,149.31Z" fill="#f8c436"/>
<path d="M226.65,147.28L237.65,140.72L248.64,134.16L259.63,127.61L270.63,121.05L281.62,114.49L292.62,107.94L303.61,101.38L314.60,94.83L314.60,94.83L314.04,98.89L314.04,98.89L303.05,105.45L292.05,112.00L281.06,118.56L270.07,125.12L259.07,131.67L248.08,138.23L237.08,144.78L226.09,151.34L226.09,151.34L226.65,147.28Z" fill="#f6cd35"/>
<path d="M226.93,145.24L237.92,138.68L248.92,132.13L259.91,125.57L270.91,119.01L281.90,112.46L292.89,105.90L303.89,99.35L314.88,92.79L314.88,92.79L314.32,96.86L314.32,96.86L303.33,103.42L292.33,109.97L281.34,116.53L270.35,123.08L259.35,129.64L248.36,136.20L237.37,142.75L226.37,149.31L226.37,149.31L226.93,145.24Z" fill="#f2d935"/>
<path d="M227.21,143.20L238.20,136.64L249.19,130.09L260.19,123.53L271.18,116.98L282.17,110.42L293.17,103.86L304.16,97.31L315.16,90.75L315.16,90.75L314.60,94.83L314.60,94.83L303.61,101.38L292.62,107.94L281.62,114.49L270.63,121.05L259.63,127.61L248.64,134.16L237.65,140.72L226.65,147.28L226.65,147.28L227.21,143.20Z" fill="#eee137"/>
<path d="M227.48,141.16L238.47,134.60L249.47,128.05L260.46,121.49L271.45,114.94L282.45,108.38L293.44,101.82L304.44,95.27L315.43,88.71L315.43,88.71L314.88,92.79L314.88,92.79L303.89,99.35L292.89,105.90L281.90,112.46L270.91,119.01L259.91,125.57L248.92,132.13L237.92,138.68L226.93,145.24L226.93,145.24L227.48,141.16Z" fill="#ebe439"/>
<path d="M227.75,139.12L238.74,132.56L249.74,126.01L260.73,119.45L271.73,112.89L282.72,106.34L293.71,99.78L304.71,93.22L315.70,86.67L315.70,86.67L315.16,90.75L315.16,90.75L304.16,97.31L293.17,103.86L282.17,110.42L271.18,116.98L260.19,123.53L249.19,130.09L238.20,136.64L227.21,143.20L227.21,143.20L227.75,139.12Z" fill="#eae53a"/>
<path d="M227.75,139.12L238.74,132.56L249.74,126.01L260.73,119.45L271.73,112.89L282.72,106.34L293.71,99.78L304.71,93.22L315.70,86.67L315.70,86.67L315.43,88.71L315.43,88.71L304.44,95.27L293.44,101.82L282.45,108.38L271.45,114.94L260.46,121.49L249.47,128.05L238.47,134.60L227.48,141.16L227.48,141.16L227.75,139.12Z" fill="#e9e63b"/>
<path class="ax" d="M227.75,287.55L160.10,218.55" />
<path class="ax" d="M227.75,287.55L315.70,235.10" />
<path class="ax" d="M160.10,218.55L160.10,70.12" />
<path class="ax" d="M315.70,235.10L315.70,86.67" />
<path class="ax" d="M160.10,218.55L157.01,220.39" />
<path class="ax" d="M160.10,175.25L157.01,177.09" />
<path class="ax" d="M160.10,131.95L157.01,133.79" />
<path class="ax" d="M160.10,88.65L157.01,90.49" />
<path class="ax" d="M227.75,287.55L224.66,289.39" />
<path class="ax" d="M193.93,253.05L190.83,254.89" />
<path class="ax" d="M160.10,218.55L157.01,220.39" />
<path class="ax" d="M227.75,287.55L230.27,290.12" />
<path class="ax" d="M271.73,261.32L274.25,263.90" />
<path class="ax" d="M315.70,235.10L318.22,237.67" />
<text class="t" x="153.6" y="91.2" text-anchor="end">1500</text>
<text class="t" x="153.6" y="134.2" text-anchor="end">1000</text>
<text class="t" x="153.6" y="177.4" text-anchor="end">500</text>
<text class="t" x="153.6" y="220.6" text-anchor="end">0</text>
<text class="t" x="153.6" y="237.7" text-anchor="end">100</text>
<text class="t" x="182.8" y="272.4" text-anchor="middle">0</text>
<text class="t" x="220.3" y="306.6" text-anchor="end">-100</text>
<text class="t" x="261.5" y="308.2" text-anchor="end">-100</text>
<text class="t" x="281.7" y="281.6" text-anchor="middle">0</text>
<text class="t" x="322.4" y="256.5">100</text>
<text class="l" x="147.3" y="307.3">x<tspan dy="6.6" font-size="11">2</tspan></text>
<text class="l" x="298.3" y="311.7">x<tspan dy="6.6" font-size="11">1</tspan></text>
<text class="l" transform="translate(107.6,145) rotate(-90)" text-anchor="middle">F1( x<tspan dy="6.6" font-size="11">1</tspan><tspan dy="-6.6"> , x</tspan><tspan dy="6.6" font-size="11">2</tspan><tspan dy="-6.6"> )</tspan></text>
<text class="h" x="238.9" y="11.7" text-anchor="middle">Parameter space</text>
</g>
<g id="scatter">
<path d="M411.4,28.4h0M419.1,33.3h0M446.0,43.1h0M480.8,45.2h0M410.5,46.4h0M413.5,47.1h0M416.7,45.8h0M411.4,50.8h0M410.2,54.3h0M411.4,58.5h0M415.1,65.2h0M415.8,69.2h0M407.2,71.8h0M450.8,71.8h0M417.7,76.8h0M410.8,78.4h0M413.1,79.3h0M411.6,82.3h0M415.4,81.6h0M473.8,81.9h0M484.5,87.5h0M449.9,89.3h0M409.9,92.1h0M416.2,91.5h0M416.0,95.4h0M411.6,96.7h0M408.5,98.7h0M486.7,96.7h0M415.5,101.3h0M409.9,18.0h0M413.1,17.8h0M417.1,17.6h0M419.7,17.6h0M500.0,20.5h0M536.5,32.8h0M518.8,43.1h0M524.9,41.2h0M490.5,45.8h0M551.9,47.1h0M491.8,56.9h0M504.7,64.6h0M494.2,66.5h0M541.5,77.4h0M550.6,76.6h0M545.7,81.2h0M550.3,86.0h0M553.3,86.0h0M495.1,88.5h0M493.8,90.6h0M520.1,100.4h0M419.7,103.7h0M408.5,106.2h0M425.9,107.0h0M412.7,110.2h0M410.5,113.1h0M423.0,117.1h0M411.4,121.9h0M409.9,125.0h0M429.6,124.6h0M414.5,128.2h0M412.5,130.5h0M413.1,137.2h0M415.5,135.5h0M424.6,139.0h0M436.1,143.6h0M488.0,151.2h0M416.0,158.5h0M426.3,164.4h0M482.1,162.1h0M460.7,168.3h0M416.4,174.2h0M416.8,176.9h0M439.2,175.5h0M410.5,182.1h0M409.9,186.1h0M544.4,105.3h0M542.4,108.5h0M527.3,123.4h0M539.8,126.3h0M537.8,136.8h0M501.4,145.6h0M508.6,146.6h0M513.5,167.3h0M539.5,180.5h0M496.0,189.6h0M558.8,161.4h0M417.3,192.7h0M415.7,199.7h0M411.2,200.5h0M469.2,196.5h0M435.5,204.7h0M435.5,208.2h0M448.0,207.4h0M479.6,206.6h0M416.8,208.2h0M412.8,223.8h0M436.4,230.2h0M417.6,232.2h0M433.9,234.9h0M416.8,235.0h0M415.2,238.6h0M422.4,237.8h0M466.0,253.3h0M415.7,255.3h0M431.7,259.3h0M433.3,260.5h0M422.9,262.5h0M480.7,263.3h0M477.2,268.1h0M417.3,267.3h0M488.7,271.0h0M442.4,272.1h0M455.9,273.4h0M481.8,275.0h0M420.0,274.8h0M413.1,276.4h0M416.0,284.9h0M419.2,286.5h0M503.7,198.1h0M539.1,196.5h0M550.7,193.5h0M513.1,207.1h0M518.4,209.8h0M530.0,209.8h0M507.7,231.7h0M502.1,240.2h0M520.0,239.7h0M532.3,239.8h0M536.7,251.3h0M540.3,255.7h0M537.1,260.5h0M538.0,265.7h0M492.5,258.1h0M495.2,259.7h0M505.9,263.8h0M502.9,268.4h0M495.2,272.9h0M500.5,272.9h0M551.1,271.0h0" stroke="#222" stroke-width="1.25" stroke-linecap="round" fill="none"/>
<path d="M404.5,268.3h0M404.4,215.6h0M405.0,237.8h0M404.9,286.7h0M404.8,287.1h0M404.4,286.4h0M406.5,255.5h0M404.5,284.3h0M409.3,220.4h0M405.1,230.3h0M404.4,132.2h0M405.1,165.9h0M404.4,283.3h0M406.2,270.0h0M405.1,281.1h0M405.1,218.1h0M404.4,235.7h0M404.5,286.6h0M405.3,209.3h0M405.3,269.4h0M404.8,251.3h0M406.9,182.5h0M405.2,276.3h0M407.3,239.6h0M405.0,198.2h0M404.6,131.1h0M406.1,256.4h0M404.9,282.9h0M405.3,287.1h0M406.0,189.9h0M405.2,161.3h0M406.0,206.0h0M405.3,229.7h0M410.9,170.8h0M405.8,248.1h0M405.4,286.6h0M412.9,216.4h0M405.0,175.5h0M405.6,260.8h0M404.9,287.3h0M404.4,281.9h0M405.6,286.7h0M404.6,284.1h0M406.8,260.1h0M404.8,286.0h0M407.5,235.3h0M408.7,176.2h0M404.9,273.1h0M406.8,264.2h0M404.7,137.8h0M404.6,281.4h0M405.0,277.2h0M404.8,228.0h0M404.8,287.4h0M405.3,262.9h0M407.4,139.2h0M405.7,241.3h0M404.4,210.2h0M408.0,154.6h0M408.1,161.5h0M404.9,259.9h0M405.2,285.2h0M404.4,286.6h0M404.5,279.1h0M404.4,266.5h0M404.4,287.4h0M404.7,285.3h0M406.2,287.2h0M404.6,223.1h0M404.7,275.5h0M404.5,263.6h0M415.7,168.4h0M405.2,249.3h0M404.4,285.9h0M404.7,266.2h0M404.7,173.7h0M407.0,287.3h0M404.5,239.1h0M404.3,236.5h0M409.9,239.1h0M407.1,164.6h0M404.8,274.7h0M405.7,282.0h0M406.5,238.3h0M404.6,267.7h0M413.4,178.2h0M408.1,167.4h0M407.3,176.4h0M405.0,277.7h0M404.3,264.6h0M404.6,287.2h0M405.5,274.9h0M405.9,138.2h0M415.7,143.9h0M405.5,138.6h0M404.6,278.2h0M404.5,280.0h0M408.2,221.1h0M405.8,170.7h0M407.1,215.1h0M405.3,285.9h0M408.1,151.7h0M405.6,193.4h0M405.8,281.3h0M406.1,267.4h0M405.7,133.6h0M407.9,258.7h0M404.7,199.3h0M404.5,284.2h0M408.4,153.1h0M406.0,283.2h0M407.2,131.0h0M405.2,265.3h0M404.3,284.0h0M407.1,133.9h0M408.3,239.4h0M406.9,254.2h0M404.8,174.4h0M404.7,275.6h0M405.2,276.6h0M404.9,274.9h0M406.6,284.0h0M405.0,264.8h0M408.0,229.1h0M407.5,256.1h0M405.4,243.6h0M404.3,239.9h0M404.6,253.3h0M405.7,287.4h0M404.9,281.6h0M405.9,199.2h0M405.1,268.1h0M406.6,234.3h0M405.1,285.1h0M404.6,275.9h0M405.8,188.0h0M406.5,233.1h0M405.8,150.9h0M405.5,223.4h0M406.0,241.9h0M405.3,251.4h0M408.2,247.4h0M408.2,205.1h0M405.1,142.4h0M408.7,233.5h0M404.6,170.8h0M404.8,284.4h0M404.6,286.3h0M405.3,286.3h0M409.1,185.1h0M405.5,282.7h0M404.6,213.6h0M412.5,159.2h0M407.4,278.3h0M405.1,259.2h0M409.2,128.1h0M404.8,282.3h0M404.9,241.3h0M404.7,280.1h0M404.3,199.9h0M405.2,234.5h0M404.7,287.3h0M405.5,221.1h0M408.1,286.5h0M411.8,184.0h0M404.6,285.2h0M405.7,287.0h0M404.4,273.9h0M407.4,255.8h0M405.0,176.3h0M406.7,283.0h0M406.2,231.5h0M404.4,285.7h0M405.3,207.6h0M406.8,286.3h0M407.1,219.0h0M406.1,285.9h0M406.1,286.5h0M404.8,251.2h0M408.3,234.7h0M404.4,274.1h0M404.7,239.3h0M404.5,285.0h0M404.5,286.8h0M404.7,269.6h0M405.0,191.1h0M404.6,243.9h0M404.3,265.7h0M404.3,275.7h0M405.9,197.4h0M404.9,280.5h0M404.6,144.6h0M405.5,176.3h0M406.8,244.7h0M405.2,259.9h0M411.7,207.7h0M406.4,266.2h0M406.2,203.4h0M404.8,258.3h0M404.4,286.8h0M405.5,286.3h0M404.5,275.2h0M406.0,285.9h0M406.9,162.6h0M404.6,272.7h0M405.0,271.6h0M404.9,282.6h0M407.7,274.5h0M406.4,133.3h0M407.8,276.2h0M404.8,269.9h0M404.7,287.4h0M405.3,248.0h0M405.0,279.7h0M404.6,287.4h0M404.8,285.7h0M404.3,287.0h0M404.6,270.5h0M405.5,228.7h0M406.4,193.3h0M408.3,201.3h0M404.8,260.3h0M404.7,129.7h0M406.3,199.4h0M405.9,287.0h0M406.7,156.7h0M407.6,197.2h0M405.0,283.6h0M406.9,243.2h0M408.1,179.9h0M407.8,228.9h0M406.5,208.7h0M404.3,277.5h0M404.7,283.9h0M406.0,285.2h0M405.8,233.7h0M406.2,220.7h0M404.3,245.6h0M407.2,181.7h0M405.4,243.4h0M404.4,213.8h0M404.9,196.5h0M404.6,286.2h0M404.7,198.2h0M411.6,195.8h0M405.0,244.9h0M405.9,247.3h0M406.3,189.3h0M404.4,217.3h0M404.6,283.1h0M405.0,195.0h0M404.3,232.0h0M404.6,286.6h0M406.4,211.1h0M404.9,210.3h0M405.2,241.1h0M404.5,249.3h0M404.8,156.2h0M411.8,131.7h0M404.9,287.3h0M411.9,176.0h0M404.7,251.9h0M407.2,279.0h0M405.2,279.0h0M405.0,283.4h0M404.7,139.3h0M405.9,176.0h0M407.2,158.1h0M406.6,277.3h0M404.3,246.1h0M404.9,287.4h0M404.8,251.7h0M404.7,283.5h0M406.3,269.2h0M405.6,287.4h0M404.6,171.0h0M407.5,147.0h0M405.1,154.0h0M404.9,262.6h0M406.8,125.4h0M405.0,264.0h0M404.4,273.4h0M406.0,285.3h0M407.3,272.4h0M404.6,275.8h0M404.6,242.1h0M408.0,262.4h0M408.3,158.8h0M408.4,219.7h0M406.4,142.8h0M404.4,200.5h0M405.5,197.5h0M406.4,192.7h0M404.4,272.3h0M404.6,146.8h0M404.9,248.4h0M405.8,271.1h0M405.1,132.2h0M404.9,214.5h0M405.1,233.9h0M404.5,282.0h0M406.7,279.2h0M404.6,244.4h0M404.5,251.8h0M404.4,280.3h0M404.4,266.3h0M404.6,276.7h0M407.7,231.7h0M405.4,193.5h0M405.2,257.0h0M404.8,262.0h0M404.6,286.6h0M404.7,134.8h0M405.7,243.3h0M404.9,164.7h0M404.6,273.8h0M405.0,259.0h0M409.3,138.9h0M404.4,162.0h0M405.4,287.2h0M405.9,155.7h0M404.3,228.3h0M407.5,260.1h0M408.6,174.6h0M405.1,133.5h0M404.5,285.0h0M406.0,240.1h0M407.6,142.6h0M406.8,216.3h0M405.4,250.7h0M405.7,287.0h0M406.9,277.2h0M404.9,216.7h0M404.6,284.1h0M406.3,218.6h0M404.4,284.9h0M405.6,239.8h0M404.6,260.5h0M404.3,225.7h0M405.0,270.8h0M407.0,137.4h0M405.8,159.0h0M404.6,277.1h0M407.5,136.9h0M404.3,270.1h0M405.9,244.2h0M404.7,256.2h0M408.9,212.1h0M404.3,277.7h0M404.9,266.7h0M404.7,208.8h0M407.2,181.9h0M404.6,243.1h0M405.3,134.2h0M404.9,176.0h0M405.7,278.1h0M407.6,271.4h0M404.6,244.6h0M404.8,278.0h0M409.6,212.5h0M404.8,283.2h0M408.0,278.8h0M404.4,283.4h0M404.8,286.6h0M409.6,155.0h0M416.0,197.5h0M405.3,145.5h0M407.0,280.8h0M404.4,194.3h0M405.1,212.7h0M404.8,262.4h0M404.3,281.8h0M404.8,273.0h0M404.6,138.5h0M404.9,135.8h0M406.3,264.5h0M405.6,175.5h0M404.9,286.9h0M407.3,262.5h0M404.7,280.3h0M404.4,155.3h0M406.4,257.4h0M404.4,189.4h0M404.4,287.1h0M405.0,148.8h0M408.9,194.0h0M404.7,266.6h0M406.8,137.8h0M405.6,274.6h0M404.7,269.2h0M405.6,287.4h0M406.8,149.8h0M404.4,142.1h0M405.0,277.1h0M412.4,138.1h0M404.7,260.7h0M405.2,254.7h0M404.8,146.5h0M407.2,180.5h0M407.6,175.3h0M405.0,224.5h0M404.8,268.8h0M404.5,185.6h0M405.7,280.0h0M404.4,276.0h0M405.0,287.1h0M408.7,268.1h0M414.9,159.1h0M404.4,274.4h0M404.9,285.5h0M405.4,202.7h0M404.9,277.1h0M406.2,221.9h0M408.0,193.9h0M404.5,212.7h0M405.1,170.6h0M405.0,232.2h0M404.7,196.2h0M404.6,276.0h0M406.4,282.8h0M404.9,230.0h0M410.3,259.5h0M404.7,242.7h0M406.6,179.0h0M404.6,127.8h0M406.6,248.0h0M409.9,170.6h0M404.6,287.0h0M404.5,284.5h0M406.7,133.2h0M405.5,145.9h0M405.7,163.8h0M405.9,274.8h0M404.6,141.3h0M405.9,226.6h0M404.8,278.4h0M404.5,283.5h0M405.3,275.3h0M404.7,215.4h0M404.7,287.4h0M404.7,209.7h0M404.6,269.6h0M406.0,182.3h0M404.4,286.5h0M405.3,259.6h0M404.5,218.0h0M405.4,282.2h0M404.7,257.6h0M407.7,270.1h0M405.2,269.6h0M404.9,264.4h0M417.6,164.3h0M404.6,263.6h0M404.7,198.5h0M406.4,287.4h0M406.5,255.6h0M407.0,258.1h0M404.5,250.1h0M405.0,287.3h0M408.4,217.7h0M405.2,285.8h0M405.1,262.7h0M404.6,283.2h0M408.1,240.3h0M404.9,285.0h0M411.7,179.9h0M404.4,280.0h0M413.9,142.1h0M404.4,246.7h0M405.5,147.0h0M406.7,153.3h0M404.7,174.8h0M404.8,184.7h0M406.6,258.3h0M404.8,173.6h0M404.8,278.4h0M405.0,240.9h0M404.6,284.4h0M408.7,199.3h0M405.0,287.0h0M404.4,191.6h0M404.6,171.3h0M405.6,226.0h0M404.9,220.5h0M405.4,256.1h0M405.7,255.3h0M405.1,252.3h0M405.2,287.3h0M404.7,245.6h0M407.4,190.1h0M404.6,250.5h0M404.5,248.2h0M404.8,284.1h0M404.8,285.7h0M404.4,242.2h0M404.4,218.6h0M407.2,197.3h0M404.4,242.0h0M405.0,243.2h0M404.7,139.8h0M417.2,166.3h0M407.6,197.6h0M408.2,280.2h0M408.7,245.2h0M404.8,149.9h0M409.9,184.0h0M404.7,286.5h0M404.6,191.9h0M405.1,155.4h0M404.6,177.1h0M407.9,243.5h0M404.6,279.2h0M404.8,242.9h0M404.5,287.1h0M406.9,282.3h0M408.4,209.4h0M405.8,281.9h0M405.0,284.7h0M405.1,218.6h0" stroke="#111" stroke-width="1.1" stroke-linecap="round" fill="none"/>
<path d="M404.8,287.4 V238" stroke="#000" stroke-width="1.7" opacity="0.85"/>
<path d="M404.7,232 V185" stroke="#000" stroke-width="1.4" opacity="0.6"/>
<path d="M406.2,287.4 V256" stroke="#000" stroke-width="1.2" opacity="0.3"/>
<path d="M403.6,130.5H409.5" stroke="#1a1a1a" stroke-width="1.1"/>
<path d="M403.6,132.2H409.5" stroke="#1a1a1a" stroke-width="1.1"/>
<path d="M403.6,163.5H420" stroke="#1a1a1a" stroke-width="1.6"/>
<path d="M403.6,165.3H413" stroke="#1a1a1a" stroke-width="1.1"/>
<path d="M403.6,166.5H413" stroke="#1a1a1a" stroke-width="1.0"/>
<path d="M403.6,172H409.5" stroke="#1a1a1a" stroke-width="1.1"/>
<path d="M403.6,174.6H413" stroke="#1a1a1a" stroke-width="1.2"/>
<path d="M403.5,195.4H421" stroke="#1a1a1a" stroke-width="1.5"/>
<path d="M409.6,215.7H420.5" stroke="#1a1a1a" stroke-width="1.5"/>
<path d="M403.6,227.5H411" stroke="#1a1a1a" stroke-width="1.1"/>
<rect class="ax" x="403.7" y="17.9" width="155.8" height="269.5"/>
<path class="ax" d="M403.3,287.4v-2.2M403.3,17.9v2.2M455.8,287.4v-2.2M455.8,17.9v2.2M508.3,287.4v-2.2M508.3,17.9v2.2M403.7,263.3h2.2M559.5,263.3h-2.2M403.7,201.7h2.2M559.5,201.7h-2.2M403.7,140.1h2.2M559.5,140.1h-2.2M403.7,78.5h2.2M559.5,78.5h-2.2M403.7,16.9h2.2M559.5,16.9h-2.2"/>
<text class="t" x="403.3" y="307.0" text-anchor="middle">3.5</text>
<text class="t" x="455.8" y="307.0" text-anchor="middle">4</text>
<text class="t" x="508.3" y="307.0" text-anchor="middle">4.5</text>
<text class="t" x="398.6" y="269.7" text-anchor="end">1000</text>
<text class="t" x="398.6" y="208.1" text-anchor="end">1050</text>
<text class="t" x="398.6" y="146.5" text-anchor="end">1100</text>
<text class="t" x="398.6" y="84.9" text-anchor="end">1150</text>
<text class="t" x="398.6" y="23.3" text-anchor="end">1200</text>
<text class="l" x="481.2" y="326" text-anchor="middle">x1</text>
<text class="l" transform="translate(362.4,153.2) rotate(-90)" text-anchor="middle">x2</text>
<text class="h" x="481.4" y="11.6" text-anchor="middle">Search history (x1 and x2 only)</text>
<rect x="401.4" y="284.79999999999995" width="5.2" height="5.2" fill="#e8262a"/>
</g>
<g id="p1">
<path class="ax" d="M30.4,378.4H186.4V648.2H30.4"/>
<text class="t" x="61.3" y="667.3" text-anchor="middle">100</text>
<text class="t" x="92.6" y="667.3" text-anchor="middle">200</text>
<text class="t" x="123.9" y="667.3" text-anchor="middle">300</text>
<text class="t" x="155.1" y="667.3" text-anchor="middle">400</text>
<text class="t" x="186.4" y="667.3" text-anchor="middle">500</text>
<text class="t" x="25.8" y="654.8" text-anchor="end">3.5</text>
<text class="t" x="25.8" y="548.8" text-anchor="end">4</text>
<text class="t" x="25.8" y="442.8" text-anchor="end">4.5</text>
<path class="ax" d="M61.3,648.2v-2.2M61.3,378.4v2.2M92.6,648.2v-2.2M92.6,378.4v2.2M123.9,648.2v-2.2M123.9,378.4v2.2M155.1,648.2v-2.2M155.1,378.4v2.2M30.4,648.3h2.2M186.4,648.3h-2.2M30.4,542.3h2.2M186.4,542.3h-2.2M30.4,436.4h2.2M186.4,436.4h-2.2"/>
<text class="l" x="108.4" y="685.8" text-anchor="middle">Iteration#</text>
<text class="h" x="108.4" y="373.1" text-anchor="middle">Trajectory of 1st grasshopper</text>
<path d="M30.0,377.9V648.2" stroke="#2d6fb3" stroke-width="1.9"/>
<path d="M30.40,378.40L30.71,644.06L31.03,627.11L31.34,644.06L31.65,646.18L31.96,641.94L32.28,637.71L32.59,644.06L32.90,633.47L33.21,641.94L33.53,627.11L33.84,644.06L34.15,618.63L34.46,648.30L34.78,648.30L186.40,648.30" stroke="#1470ba" stroke-width="1.2" fill="none" stroke-linejoin="round"/>
</g>
<g id="p2">
<path class="ax" d="M273.1,378.4H428.9V648.2H273.1"/>
<path class="ax" d="M273.1,622.6V648.2" opacity="0.8"/>
<text class="t" x="304.0" y="667.3" text-anchor="middle">100</text>
<text class="t" x="335.2" y="667.3" text-anchor="middle">200</text>
<text class="t" x="366.5" y="667.3" text-anchor="middle">300</text>
<text class="t" x="397.7" y="667.3" text-anchor="middle">400</text>
<text class="t" x="428.9" y="667.3" text-anchor="middle">500</text>
<text class="t" x="268.5" y="646.5" text-anchor="end">3.6</text>
<text class="t" x="268.5" y="615.2" text-anchor="end">3.7</text>
<text class="t" x="268.5" y="583.9" text-anchor="end">3.8</text>
<text class="t" x="268.5" y="552.5" text-anchor="end">3.9</text>
<text class="t" x="268.5" y="521.2" text-anchor="end">4</text>
<text class="t" x="268.5" y="489.9" text-anchor="end">4.1</text>
<text class="t" x="268.5" y="458.5" text-anchor="end">4.2</text>
<text class="t" x="268.5" y="427.2" text-anchor="end">4.3</text>
<text class="t" x="268.5" y="395.8" text-anchor="end">4.4</text>
<path class="ax" d="M304.0,648.2v-2.2M304.0,378.4v2.2M335.2,648.2v-2.2M335.2,378.4v2.2M366.5,648.2v-2.2M366.5,378.4v2.2M397.7,648.2v-2.2M397.7,378.4v2.2M273.1,639.8h2.2M428.9,639.8h-2.2M273.1,608.5h2.2M428.9,608.5h-2.2M273.1,577.1h2.2M428.9,577.1h-2.2M273.1,545.8h2.2M428.9,545.8h-2.2M273.1,514.4h2.2M428.9,514.4h-2.2M273.1,483.1h2.2M428.9,483.1h-2.2M273.1,451.8h2.2M428.9,451.8h-2.2M273.1,420.4h2.2M428.9,420.4h-2.2M273.1,389.1h2.2M428.9,389.1h-2.2"/>
<text class="l" x="351.0" y="685.8" text-anchor="middle">Iteration#</text>
<text class="h" x="351.2" y="373.1" text-anchor="middle">Average fitness of all grasshoppers</text>
<path d="M273.0,377.9V608.5" stroke="#86b6dd" stroke-width="2"/>
<path d="M273.10,378.40L273.41,498.77L273.72,558.32L274.04,589.66L274.35,605.33L274.66,613.16L274.97,619.43L275.29,630.70L275.60,626.18L275.91,628.72L276.22,625.52L276.53,625.31L276.85,634.19L277.16,635.61L277.47,622.91L277.78,630.75L278.10,631.20L278.41,621.34L278.72,627.84L279.03,623.34L279.34,627.89L279.66,625.87L279.97,632.89L280.28,626.07L280.59,623.40L280.91,627.61L281.22,625.02L281.53,625.92L281.84,634.79L282.15,625.06L282.47,627.11L282.78,630.95L283.09,635.68L283.40,624.20L283.72,628.84L284.03,625.98L284.34,624.31L284.65,626.19L284.96,624.04L285.28,630.14L285.59,625.48L285.90,629.63L286.21,624.24L286.53,624.91L286.84,634.73L287.15,634.12L287.46,632.92L287.77,624.39L288.09,630.17L288.40,628.06L288.71,631.97L289.02,629.53L289.34,631.02L289.65,631.51L289.96,628.87L290.27,628.95L290.58,625.79L290.90,628.07L291.21,625.73L291.52,626.50L291.83,625.33L292.15,628.48L292.46,634.43L292.77,626.80L293.08,625.93L293.39,626.57L293.71,629.88L294.02,628.52L294.33,634.05L294.64,627.58L294.96,630.12L295.27,633.29L295.58,636.36L295.89,627.71L296.20,626.62L296.52,636.06L296.83,628.44L297.14,632.23L297.45,635.29L297.77,633.61L298.08,629.04L298.39,628.23L298.70,637.04L299.01,630.65L299.33,637.09L299.64,629.88L299.95,633.59L300.26,628.68L300.58,627.97L300.89,632.06L301.20,628.01L301.51,634.08L301.82,636.87L302.14,631.50L302.45,637.66L302.76,635.48L303.07,633.41L303.39,631.69L303.70,636.09L304.01,637.64L304.32,629.89L304.63,634.60L304.95,629.38L305.26,629.91L305.57,634.20L305.88,633.53L306.20,633.09L306.51,632.15L306.82,632.61L307.13,632.98L307.44,632.56L307.76,630.23L308.07,633.62L308.38,634.33L308.69,632.08L309.01,636.25L309.32,635.70L309.63,630.45L309.94,633.93L310.25,633.78L310.57,639.35L310.88,635.01L311.19,633.75L311.50,639.34L311.82,633.61L312.13,633.56L312.44,638.90L312.75,633.75L313.06,635.07L313.38,633.51L313.69,636.15L314.00,633.46L314.31,633.31L314.63,639.85L314.94,639.35L315.25,633.98L315.56,632.09L315.87,637.50L316.19,635.84L316.50,634.88L316.81,637.09L317.12,636.79L317.44,637.28L317.75,636.88L318.06,635.22L318.37,637.58L318.68,637.01L319.00,634.22L319.31,640.60L319.62,635.77L319.93,634.69L320.25,637.89L320.56,638.71L320.87,634.47L321.18,638.69L321.49,639.21L321.81,637.24L322.12,635.47L322.43,640.24L322.74,638.31L323.06,638.29L323.37,634.90L323.68,637.63L323.99,634.92L324.30,639.93L324.62,638.59L324.93,636.45L325.24,635.06L325.55,637.95L325.87,639.75L326.18,640.75L326.49,637.61L326.80,640.23L327.11,636.00L327.43,635.88L327.74,640.47L328.05,639.76L328.36,636.30L328.68,637.39L328.99,636.46L329.30,639.51L329.61,641.32L329.92,640.04L330.24,636.84L330.55,640.33L330.86,639.84L331.17,639.41L331.49,639.46L331.80,639.60L332.11,636.60L332.42,641.62L332.73,643.32L333.05,636.71L333.36,637.14L333.67,636.64L333.98,639.91L334.30,637.00L334.61,637.20L334.92,641.58L335.23,638.34L335.54,637.90L335.86,638.91L336.17,639.79L336.48,641.30L336.79,640.99L337.11,641.81L337.42,643.14L337.73,639.62L338.04,641.50L338.35,638.53L338.67,643.48L338.98,638.17L339.29,639.29L339.60,638.18L339.92,638.37L340.23,638.41L340.54,640.11L340.85,644.03L341.16,639.33L341.48,642.67L341.79,641.86L342.10,639.90L342.41,640.66L342.73,641.31L343.04,638.74L343.35,640.35L343.66,641.84L343.97,642.41L344.29,639.32L344.60,641.22L344.91,639.79L345.22,641.98L345.54,642.92L345.85,641.11L346.16,639.85L346.47,643.19L346.78,640.07L347.10,639.57L347.41,640.11L347.72,640.09L348.03,644.64L348.35,641.04L348.66,640.09L348.97,644.29L349.28,642.91L349.59,642.96L349.91,641.73L350.22,642.26L350.53,642.07L350.84,640.82L351.16,644.95L351.47,644.46L351.78,643.99L352.09,644.04L352.41,644.44L352.72,640.41L353.03,640.90L353.34,644.40L353.65,642.38L353.97,643.24L354.28,643.28L354.59,643.15L354.90,641.99L355.22,642.27L355.53,643.23L355.84,644.05L356.15,643.44L356.46,644.46L356.78,642.62L357.09,642.09L357.40,643.39L357.71,644.82L358.03,644.34L358.34,643.53L358.65,642.73L358.96,642.18L359.27,643.63L359.59,642.23L359.90,642.86L360.21,643.56L360.52,643.82L360.84,643.42L361.15,642.80L361.46,643.77L361.77,642.93L362.08,643.71L362.40,644.52L362.71,643.56L363.02,643.13L363.33,645.36L363.65,644.04L363.96,644.08L364.27,642.83L364.58,642.74L364.89,644.37L365.21,642.95L365.52,643.28L365.83,644.85L366.14,644.26L366.46,645.42L366.77,643.42L367.08,643.82L367.39,643.30L367.70,643.56L368.02,643.90L368.33,643.76L368.64,644.22L368.95,645.63L369.27,644.21L369.58,646.15L369.89,645.54L370.20,643.85L370.51,645.96L370.83,645.78L371.14,645.77L371.45,643.74L371.76,645.53L372.08,646.14L372.39,643.92L372.70,645.77L373.01,643.98L373.32,644.38L373.64,644.06L373.95,643.86L374.26,644.67L374.57,644.23L374.89,646.21L375.20,644.36L375.51,644.93L375.82,644.52L376.13,646.01L376.45,644.52L376.76,644.19L377.07,646.22L377.38,645.50L377.70,645.00L378.01,644.52L378.32,645.77L378.63,645.95L378.94,645.79L379.26,645.04L379.57,644.81L379.88,645.53L380.19,645.61L380.51,645.57L380.82,645.69L381.13,645.58L381.44,646.37L381.75,645.47L382.07,644.70L382.38,645.68L382.69,645.12L383.00,646.26L383.32,645.28L383.63,645.20L383.94,645.36L384.25,645.65L384.56,645.73L384.88,645.50L385.19,645.15L385.50,646.43L385.81,646.57L386.13,645.46L386.44,645.25L386.75,645.86L387.06,646.00L387.37,645.62L387.69,646.49L388.00,646.36L388.31,646.50L388.62,645.92L388.94,646.34L389.25,646.50L389.56,645.86L389.87,645.57L390.18,646.46L390.50,645.93L390.81,646.34L391.12,645.82L391.43,646.17L391.75,646.61L392.06,646.71L392.37,647.08L392.68,646.40L392.99,646.54L393.31,646.85L393.62,646.62L393.93,646.69L394.24,646.22L394.56,646.97L394.87,646.08L395.18,646.60L395.49,646.51L395.80,646.67L396.12,646.35L396.43,646.39L396.74,646.66L397.05,646.75L397.37,646.57L397.68,646.49L397.99,646.89L398.30,646.61L398.61,646.45L398.93,646.85L399.24,647.08L399.55,647.08L399.86,646.67L400.18,646.71L400.49,646.52L400.80,646.60L401.11,647.10L401.42,647.16L401.74,647.10L402.05,647.17L402.36,646.76L402.67,646.66L402.99,646.65L403.30,647.13L403.61,646.69L403.92,647.09L404.23,647.01L404.55,646.81L404.86,647.32L405.17,647.31L405.48,646.78L405.80,647.15L406.11,647.11L406.42,646.96L406.73,646.91L407.04,647.44L407.36,647.15L407.67,647.09L407.98,647.06L408.29,647.26L408.61,647.02L408.92,646.83L409.23,647.15L409.54,647.07L409.85,647.35L410.17,647.25L410.48,647.03L410.79,647.37L411.10,646.94L411.42,646.95L411.73,647.40L412.04,646.95L412.35,647.23L412.66,647.05L412.98,647.07L413.29,647.30L413.60,647.12L413.91,647.14L414.23,647.09L414.54,647.34L414.85,647.13L415.16,647.06L415.47,647.18L415.79,647.24L416.10,647.44L416.41,647.28L416.72,647.34L417.04,647.21L417.35,647.24L417.66,647.28L417.97,647.44L418.28,647.27L418.60,647.29L418.91,647.45L419.22,647.23L419.53,647.31L419.85,647.49L420.16,647.26L420.47,647.49L420.78,647.44L421.09,647.34L421.41,647.38L421.72,647.40L422.03,647.39L422.34,647.44L422.66,647.48L422.97,647.52L423.28,647.56L423.59,647.42L423.90,647.42L424.22,647.47L424.53,647.44L424.84,647.52L425.15,647.54L425.47,647.53L425.78,647.47L426.09,647.60L426.40,647.53L426.71,647.57L427.03,647.52L427.34,647.57L427.65,647.58L427.96,647.58L428.28,647.58L428.59,647.57L428.90,647.61" stroke="#0f70bb" stroke-width="0.85" fill="none" stroke-linejoin="round"/>
</g>
<g id="p3">
<path class="ax" d="M517.0,378.4H673.6V648.2H517.0"/>
<path class="ax" d="M517.0,589.1V648.2" opacity="0.8"/>
<text class="t" x="548.1" y="667.3" text-anchor="middle">100</text>
<text class="t" x="579.5" y="667.3" text-anchor="middle">200</text>
<text class="t" x="610.8" y="667.3" text-anchor="middle">300</text>
<text class="t" x="642.2" y="667.3" text-anchor="middle">400</text>
<text class="t" x="673.6" y="667.3" text-anchor="middle">500</text>
<text class="t" x="512.4" y="644.8" text-anchor="end">3.58</text>
<text class="t" x="512.4" y="606.4" text-anchor="end">3.6</text>
<text class="t" x="512.4" y="568.0" text-anchor="end">3.62</text>
<text class="t" x="512.4" y="529.6" text-anchor="end">3.64</text>
<text class="t" x="512.4" y="491.2" text-anchor="end">3.66</text>
<text class="t" x="512.4" y="452.8" text-anchor="end">3.68</text>
<text class="t" x="512.4" y="414.5" text-anchor="end">3.7</text>
<path class="ax" d="M548.1,648.2v-2.2M548.1,378.4v2.2M579.5,648.2v-2.2M579.5,378.4v2.2M610.8,648.2v-2.2M610.8,378.4v2.2M642.2,648.2v-2.2M642.2,378.4v2.2M517.0,639.0h2.2M673.6,639.0h-2.2M517.0,600.6h2.2M673.6,600.6h-2.2M517.0,562.2h2.2M673.6,562.2h-2.2M517.0,523.9h2.2M673.6,523.9h-2.2M517.0,485.5h2.2M673.6,485.5h-2.2M517.0,447.1h2.2M673.6,447.1h-2.2M517.0,408.7h2.2M673.6,408.7h-2.2M673.6,648.6h-1.5M673.6,639.0h-1.5M673.6,629.4h-1.5M673.6,619.8h-1.5M673.6,610.2h-1.5M673.6,600.6h-1.5M673.6,591.0h-1.5M673.6,581.4h-1.5M673.6,571.8h-1.5M673.6,562.2h-1.5M673.6,552.6h-1.5M673.6,543.0h-1.5M673.6,533.5h-1.5M673.6,523.9h-1.5M673.6,514.3h-1.5M673.6,504.7h-1.5M673.6,495.1h-1.5M673.6,485.5h-1.5M673.6,475.9h-1.5M673.6,466.3h-1.5M673.6,456.7h-1.5M673.6,447.1h-1.5M673.6,437.5h-1.5M673.6,427.9h-1.5M673.6,418.3h-1.5M673.6,408.7h-1.5M673.6,399.1h-1.5M673.6,389.5h-1.5M673.6,379.9h-1.5"/>
<text class="l" x="595.3" y="685.8" text-anchor="middle">Iteration#</text>
<text class="h" x="595.2" y="373.1" text-anchor="middle">Convergence curve</text>
<text class="l" transform="translate(478.8,513.7) rotate(-90)" text-anchor="middle">Best score obtained so far</text>
<path d="M517.00,378.40L517.31,408.72L517.63,589.11L518.41,589.11L518.73,648.20L673.60,648.20" stroke="#ee2630" stroke-width="1.15" fill="none" stroke-linejoin="round"/>
</g>
</svg></body></html>
